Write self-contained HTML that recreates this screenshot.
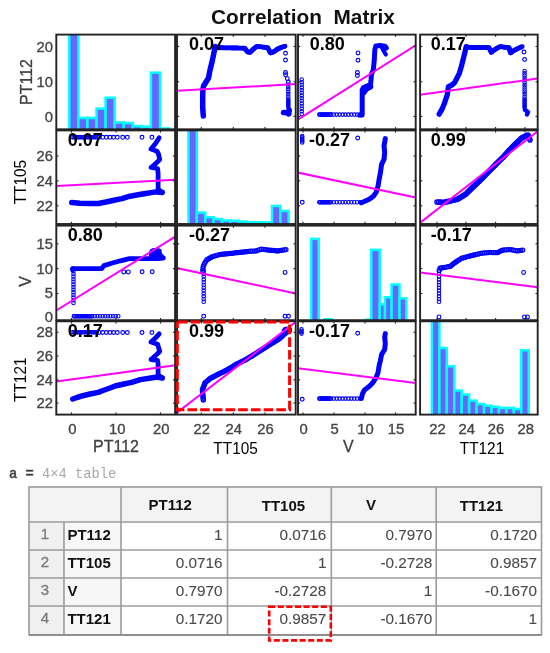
<!DOCTYPE html>
<html><head><meta charset="utf-8"><style>
html,body{margin:0;padding:0;background:#fff;width:550px;height:653px;overflow:hidden;position:relative}
.cmd{position:absolute;left:9px;top:463px;font-family:"Liberation Mono",monospace;font-size:13.75px;white-space:pre}
.cmd .a{color:#333} .cmd .g{color:#a6a6a6}
</style></head><body>
<svg width="550" height="653" viewBox="0 0 550 653" style="position:absolute;left:0;top:0">
<defs><clipPath id="c00"><rect x="56.3" y="34.6" width="118.8" height="94.70000000000002"/></clipPath><clipPath id="c01"><rect x="177.0" y="34.6" width="118.69999999999999" height="94.70000000000002"/></clipPath><clipPath id="c02"><rect x="298.0" y="34.6" width="117.69999999999999" height="94.70000000000002"/></clipPath><clipPath id="c03"><rect x="420.1" y="34.6" width="117.60000000000002" height="94.70000000000002"/></clipPath><clipPath id="c10"><rect x="56.3" y="130.4" width="118.8" height="93.6"/></clipPath><clipPath id="c11"><rect x="177.0" y="130.4" width="118.69999999999999" height="93.6"/></clipPath><clipPath id="c12"><rect x="298.0" y="130.4" width="117.69999999999999" height="93.6"/></clipPath><clipPath id="c13"><rect x="420.1" y="130.4" width="117.60000000000002" height="93.6"/></clipPath><clipPath id="c20"><rect x="56.3" y="225.6" width="118.8" height="94.6"/></clipPath><clipPath id="c21"><rect x="177.0" y="225.6" width="118.69999999999999" height="94.6"/></clipPath><clipPath id="c22"><rect x="298.0" y="225.6" width="117.69999999999999" height="94.6"/></clipPath><clipPath id="c23"><rect x="420.1" y="225.6" width="117.60000000000002" height="94.6"/></clipPath><clipPath id="c30"><rect x="56.3" y="321.3" width="118.8" height="93.30000000000001"/></clipPath><clipPath id="c31"><rect x="177.0" y="321.3" width="118.69999999999999" height="93.30000000000001"/></clipPath><clipPath id="c32"><rect x="298.0" y="321.3" width="117.69999999999999" height="93.30000000000001"/></clipPath><clipPath id="c33"><rect x="420.1" y="321.3" width="117.60000000000002" height="93.30000000000001"/></clipPath></defs>
<style>.cv{font-family:"Liberation Sans",Arial,sans-serif;font-weight:bold;font-size:18px;fill:#000}.tk{font-family:"Liberation Sans",Arial,sans-serif;font-size:14.8px;fill:#454545;stroke:#454545;stroke-width:0.35px}.lb{font-family:"Liberation Sans",Arial,sans-serif;font-size:16px;stroke-width:0.3px}.ti{font-family:"Liberation Sans",Arial,sans-serif;font-weight:bold;font-size:20.8px;fill:#111}</style>
<text x="211" y="23.6" class="ti" xml:space="preserve" style="white-space:pre">Correlation  Matrix</text>
<rect x="56.3" y="34.6" width="118.8" height="94.70000000000002" fill="#fff"/>
<g clip-path="url(#c00)">
<rect x="69.30" y="21.25" width="9.07" height="111.05" fill="#6666ff" stroke="#00ffff" stroke-width="2.5"/><rect x="78.37" y="117.95" width="9.07" height="14.35" fill="#6666ff" stroke="#00ffff" stroke-width="2.5"/><rect x="87.44" y="117.95" width="9.07" height="14.35" fill="#6666ff" stroke="#00ffff" stroke-width="2.5"/><rect x="96.51" y="108.65" width="9.07" height="23.65" fill="#6666ff" stroke="#00ffff" stroke-width="2.5"/><rect x="105.58" y="97.75" width="9.07" height="34.55" fill="#6666ff" stroke="#00ffff" stroke-width="2.5"/><rect x="114.65" y="122.45" width="9.07" height="9.85" fill="#6666ff" stroke="#00ffff" stroke-width="2.5"/><rect x="123.72" y="123.05" width="9.07" height="9.25" fill="#6666ff" stroke="#00ffff" stroke-width="2.5"/><rect x="132.79" y="126.05" width="9.07" height="6.25" fill="#6666ff" stroke="#00ffff" stroke-width="2.5"/><rect x="141.86" y="126.65" width="9.07" height="5.65" fill="#6666ff" stroke="#00ffff" stroke-width="2.5"/><rect x="150.93" y="72.65" width="9.07" height="59.65" fill="#6666ff" stroke="#00ffff" stroke-width="2.5"/><rect x="160.00" y="128.45" width="9.07" height="3.85" fill="#6666ff" stroke="#00ffff" stroke-width="2.5"/>

</g>
<rect x="56.3" y="34.6" width="118.8" height="94.70000000000002" fill="none" stroke="#222222" stroke-width="1.9"/>
<rect x="177.0" y="34.6" width="118.69999999999999" height="94.70000000000002" fill="#fff"/>
<g clip-path="url(#c01)">
<polyline points="203.3,116.0 202.7,108.0 202.7,96.0 202.9,89.0 203.6,86.0 206.0,82.0 208.5,78.0 210.0,70.0 212.0,62.0 213.5,55.0 215.2,46.5" fill="none" stroke="#0000ff" stroke-width="5.5" stroke-linejoin="round" stroke-linecap="round"/><circle cx="215.2" cy="47.5" r="1.75" fill="none" stroke="#0000ff" stroke-width="1.4"/><circle cx="216.1" cy="47.6" r="1.75" fill="none" stroke="#0000ff" stroke-width="1.4"/><circle cx="217.1" cy="47.7" r="1.75" fill="none" stroke="#0000ff" stroke-width="1.4"/><circle cx="218.0" cy="47.8" r="1.75" fill="none" stroke="#0000ff" stroke-width="1.4"/><circle cx="218.9" cy="47.8" r="1.75" fill="none" stroke="#0000ff" stroke-width="1.4"/><circle cx="219.8" cy="47.8" r="1.75" fill="none" stroke="#0000ff" stroke-width="1.4"/><circle cx="220.7" cy="47.8" r="1.75" fill="none" stroke="#0000ff" stroke-width="1.4"/><circle cx="221.6" cy="47.8" r="1.75" fill="none" stroke="#0000ff" stroke-width="1.4"/><circle cx="222.5" cy="47.8" r="1.75" fill="none" stroke="#0000ff" stroke-width="1.4"/><circle cx="223.4" cy="47.9" r="1.75" fill="none" stroke="#0000ff" stroke-width="1.4"/><circle cx="224.3" cy="47.9" r="1.75" fill="none" stroke="#0000ff" stroke-width="1.4"/><circle cx="225.2" cy="47.9" r="1.75" fill="none" stroke="#0000ff" stroke-width="1.4"/><circle cx="226.1" cy="47.9" r="1.75" fill="none" stroke="#0000ff" stroke-width="1.4"/><circle cx="227.0" cy="47.9" r="1.75" fill="none" stroke="#0000ff" stroke-width="1.4"/><circle cx="227.9" cy="47.9" r="1.75" fill="none" stroke="#0000ff" stroke-width="1.4"/><circle cx="228.8" cy="47.9" r="1.75" fill="none" stroke="#0000ff" stroke-width="1.4"/><circle cx="229.7" cy="47.9" r="1.75" fill="none" stroke="#0000ff" stroke-width="1.4"/><circle cx="230.6" cy="47.9" r="1.75" fill="none" stroke="#0000ff" stroke-width="1.4"/><circle cx="231.5" cy="48.0" r="1.75" fill="none" stroke="#0000ff" stroke-width="1.4"/><circle cx="232.4" cy="48.0" r="1.75" fill="none" stroke="#0000ff" stroke-width="1.4"/><circle cx="233.3" cy="48.0" r="1.75" fill="none" stroke="#0000ff" stroke-width="1.4"/><circle cx="234.2" cy="48.0" r="1.75" fill="none" stroke="#0000ff" stroke-width="1.4"/><circle cx="235.1" cy="48.0" r="1.75" fill="none" stroke="#0000ff" stroke-width="1.4"/><circle cx="236.0" cy="48.0" r="1.75" fill="none" stroke="#0000ff" stroke-width="1.4"/><circle cx="237.0" cy="48.0" r="1.75" fill="none" stroke="#0000ff" stroke-width="1.4"/><circle cx="237.9" cy="48.0" r="1.75" fill="none" stroke="#0000ff" stroke-width="1.4"/><circle cx="238.9" cy="48.1" r="1.75" fill="none" stroke="#0000ff" stroke-width="1.4"/><circle cx="239.9" cy="48.1" r="1.75" fill="none" stroke="#0000ff" stroke-width="1.4"/><circle cx="240.8" cy="48.1" r="1.75" fill="none" stroke="#0000ff" stroke-width="1.4"/><circle cx="241.8" cy="48.1" r="1.75" fill="none" stroke="#0000ff" stroke-width="1.4"/><circle cx="242.8" cy="48.2" r="1.75" fill="none" stroke="#0000ff" stroke-width="1.4"/><circle cx="243.7" cy="48.2" r="1.75" fill="none" stroke="#0000ff" stroke-width="1.4"/><circle cx="244.7" cy="48.2" r="1.75" fill="none" stroke="#0000ff" stroke-width="1.4"/><circle cx="245.3" cy="49.0" r="1.75" fill="none" stroke="#0000ff" stroke-width="1.4"/><circle cx="245.8" cy="49.7" r="1.75" fill="none" stroke="#0000ff" stroke-width="1.4"/><circle cx="246.4" cy="50.5" r="1.75" fill="none" stroke="#0000ff" stroke-width="1.4"/><circle cx="246.9" cy="51.2" r="1.75" fill="none" stroke="#0000ff" stroke-width="1.4"/><circle cx="247.5" cy="52.0" r="1.75" fill="none" stroke="#0000ff" stroke-width="1.4"/><circle cx="248.8" cy="52.2" r="1.75" fill="none" stroke="#0000ff" stroke-width="1.4"/><circle cx="250.0" cy="52.5" r="1.75" fill="none" stroke="#0000ff" stroke-width="1.4"/><circle cx="250.8" cy="51.8" r="1.75" fill="none" stroke="#0000ff" stroke-width="1.4"/><circle cx="251.5" cy="51.0" r="1.75" fill="none" stroke="#0000ff" stroke-width="1.4"/><circle cx="252.2" cy="50.2" r="1.75" fill="none" stroke="#0000ff" stroke-width="1.4"/><circle cx="253.0" cy="49.5" r="1.75" fill="none" stroke="#0000ff" stroke-width="1.4"/><circle cx="253.7" cy="48.9" r="1.75" fill="none" stroke="#0000ff" stroke-width="1.4"/><circle cx="254.5" cy="48.3" r="1.75" fill="none" stroke="#0000ff" stroke-width="1.4"/><circle cx="255.2" cy="47.7" r="1.75" fill="none" stroke="#0000ff" stroke-width="1.4"/><circle cx="256.0" cy="47.1" r="1.75" fill="none" stroke="#0000ff" stroke-width="1.4"/><circle cx="256.7" cy="46.5" r="1.75" fill="none" stroke="#0000ff" stroke-width="1.4"/><circle cx="257.8" cy="46.6" r="1.75" fill="none" stroke="#0000ff" stroke-width="1.4"/><circle cx="258.8" cy="46.7" r="1.75" fill="none" stroke="#0000ff" stroke-width="1.4"/><circle cx="259.9" cy="46.8" r="1.75" fill="none" stroke="#0000ff" stroke-width="1.4"/><circle cx="260.9" cy="46.9" r="1.75" fill="none" stroke="#0000ff" stroke-width="1.4"/><circle cx="262.0" cy="47.0" r="1.75" fill="none" stroke="#0000ff" stroke-width="1.4"/><circle cx="262.9" cy="47.1" r="1.75" fill="none" stroke="#0000ff" stroke-width="1.4"/><circle cx="263.9" cy="47.2" r="1.75" fill="none" stroke="#0000ff" stroke-width="1.4"/><circle cx="264.8" cy="47.3" r="1.75" fill="none" stroke="#0000ff" stroke-width="1.4"/><circle cx="265.7" cy="47.4" r="1.75" fill="none" stroke="#0000ff" stroke-width="1.4"/><circle cx="266.7" cy="47.5" r="1.75" fill="none" stroke="#0000ff" stroke-width="1.4"/><circle cx="267.6" cy="47.6" r="1.75" fill="none" stroke="#0000ff" stroke-width="1.4"/><circle cx="268.1" cy="48.5" r="1.75" fill="none" stroke="#0000ff" stroke-width="1.4"/><circle cx="268.6" cy="49.4" r="1.75" fill="none" stroke="#0000ff" stroke-width="1.4"/><circle cx="269.1" cy="50.3" r="1.75" fill="none" stroke="#0000ff" stroke-width="1.4"/><circle cx="269.5" cy="51.2" r="1.75" fill="none" stroke="#0000ff" stroke-width="1.4"/><circle cx="270.0" cy="52.1" r="1.75" fill="none" stroke="#0000ff" stroke-width="1.4"/><circle cx="270.5" cy="53.0" r="1.75" fill="none" stroke="#0000ff" stroke-width="1.4"/><circle cx="271.5" cy="52.7" r="1.75" fill="none" stroke="#0000ff" stroke-width="1.4"/><circle cx="272.5" cy="52.3" r="1.75" fill="none" stroke="#0000ff" stroke-width="1.4"/><circle cx="273.5" cy="52.0" r="1.75" fill="none" stroke="#0000ff" stroke-width="1.4"/><circle cx="274.3" cy="51.5" r="1.75" fill="none" stroke="#0000ff" stroke-width="1.4"/><circle cx="275.1" cy="50.9" r="1.75" fill="none" stroke="#0000ff" stroke-width="1.4"/><circle cx="275.8" cy="50.4" r="1.75" fill="none" stroke="#0000ff" stroke-width="1.4"/><circle cx="276.6" cy="49.8" r="1.75" fill="none" stroke="#0000ff" stroke-width="1.4"/><circle cx="277.4" cy="49.3" r="1.75" fill="none" stroke="#0000ff" stroke-width="1.4"/><circle cx="278.3" cy="48.8" r="1.75" fill="none" stroke="#0000ff" stroke-width="1.4"/><circle cx="279.2" cy="48.4" r="1.75" fill="none" stroke="#0000ff" stroke-width="1.4"/><circle cx="280.1" cy="48.0" r="1.75" fill="none" stroke="#0000ff" stroke-width="1.4"/><circle cx="281.0" cy="47.5" r="1.75" fill="none" stroke="#0000ff" stroke-width="1.4"/><circle cx="282.0" cy="47.2" r="1.75" fill="none" stroke="#0000ff" stroke-width="1.4"/><circle cx="283.0" cy="46.9" r="1.75" fill="none" stroke="#0000ff" stroke-width="1.4"/><circle cx="284.0" cy="46.6" r="1.75" fill="none" stroke="#0000ff" stroke-width="1.4"/><circle cx="285.0" cy="46.3" r="1.75" fill="none" stroke="#0000ff" stroke-width="1.4"/><circle cx="285.5" cy="53.2" r="1.9" fill="none" stroke="#0000ff" stroke-width="1.15"/><circle cx="285.5" cy="60.0" r="1.9" fill="none" stroke="#0000ff" stroke-width="1.15"/><circle cx="285.5" cy="72.5" r="1.9" fill="none" stroke="#0000ff" stroke-width="1.15"/><circle cx="285.6" cy="74.8" r="1.9" fill="none" stroke="#0000ff" stroke-width="1.15"/><circle cx="287.3" cy="78.6" r="1.9" fill="none" stroke="#0000ff" stroke-width="1.15"/><circle cx="288.3" cy="82.0" r="1.9" fill="none" stroke="#0000ff" stroke-width="1.15"/><circle cx="288.3" cy="84.5" r="1.75" fill="none" stroke="#0000ff" stroke-width="1.05"/><circle cx="288.3" cy="86.9" r="1.75" fill="none" stroke="#0000ff" stroke-width="1.05"/><circle cx="288.3" cy="89.3" r="1.75" fill="none" stroke="#0000ff" stroke-width="1.05"/><circle cx="288.3" cy="91.7" r="1.75" fill="none" stroke="#0000ff" stroke-width="1.05"/><circle cx="288.3" cy="94.1" r="1.75" fill="none" stroke="#0000ff" stroke-width="1.05"/><circle cx="288.3" cy="96.4" r="1.75" fill="none" stroke="#0000ff" stroke-width="1.05"/><circle cx="288.3" cy="98.8" r="1.75" fill="none" stroke="#0000ff" stroke-width="1.05"/><circle cx="288.3" cy="101.2" r="1.75" fill="none" stroke="#0000ff" stroke-width="1.05"/><circle cx="288.3" cy="103.6" r="1.75" fill="none" stroke="#0000ff" stroke-width="1.05"/><circle cx="288.3" cy="106.0" r="1.75" fill="none" stroke="#0000ff" stroke-width="1.05"/><polyline points="288.3,100.0 288.3,108.0" fill="none" stroke="#0000ff" stroke-width="4" stroke-linejoin="round" stroke-linecap="round"/><polyline points="283.5,112.5 288.0,112.8 289.3,110.0 288.8,114.0" fill="none" stroke="#0000ff" stroke-width="5.5" stroke-linejoin="round" stroke-linecap="round"/>
<text x="189.0" y="50.0" class="cv">0.07</text>
<line x1="176.8" y1="90.8" x2="295.6" y2="84.0" stroke="#ff00ff" stroke-width="2.0"/>
</g>
<rect x="177.0" y="34.6" width="118.69999999999999" height="94.70000000000002" fill="none" stroke="#222222" stroke-width="1.9"/>
<line x1="201.3" y1="34.6" x2="201.3" y2="36.800000000000004" stroke="#222222" stroke-width="1.1"/>
<line x1="201.3" y1="129.3" x2="201.3" y2="127.10000000000001" stroke="#222222" stroke-width="1.1"/>
<line x1="233.3" y1="34.6" x2="233.3" y2="36.800000000000004" stroke="#222222" stroke-width="1.1"/>
<line x1="233.3" y1="129.3" x2="233.3" y2="127.10000000000001" stroke="#222222" stroke-width="1.1"/>
<line x1="265" y1="34.6" x2="265" y2="36.800000000000004" stroke="#222222" stroke-width="1.1"/>
<line x1="265" y1="129.3" x2="265" y2="127.10000000000001" stroke="#222222" stroke-width="1.1"/>
<line x1="177.0" y1="116.4" x2="179.2" y2="116.4" stroke="#222222" stroke-width="1.1"/>
<line x1="295.7" y1="116.4" x2="293.5" y2="116.4" stroke="#222222" stroke-width="1.1"/>
<line x1="177.0" y1="81.8" x2="179.2" y2="81.8" stroke="#222222" stroke-width="1.1"/>
<line x1="295.7" y1="81.8" x2="293.5" y2="81.8" stroke="#222222" stroke-width="1.1"/>
<line x1="177.0" y1="46.5" x2="179.2" y2="46.5" stroke="#222222" stroke-width="1.1"/>
<line x1="295.7" y1="46.5" x2="293.5" y2="46.5" stroke="#222222" stroke-width="1.1"/>
<rect x="298.0" y="34.6" width="117.69999999999999" height="94.70000000000002" fill="#fff"/>
<g clip-path="url(#c02)">
<circle cx="301.7" cy="79.5" r="1.75" fill="none" stroke="#0000ff" stroke-width="1.05"/><circle cx="301.7" cy="82.2" r="1.75" fill="none" stroke="#0000ff" stroke-width="1.05"/><circle cx="301.7" cy="84.8" r="1.75" fill="none" stroke="#0000ff" stroke-width="1.05"/><circle cx="301.7" cy="87.5" r="1.75" fill="none" stroke="#0000ff" stroke-width="1.05"/><circle cx="301.7" cy="90.1" r="1.75" fill="none" stroke="#0000ff" stroke-width="1.05"/><circle cx="301.7" cy="92.8" r="1.75" fill="none" stroke="#0000ff" stroke-width="1.05"/><circle cx="301.7" cy="95.4" r="1.75" fill="none" stroke="#0000ff" stroke-width="1.05"/><circle cx="301.7" cy="98.1" r="1.75" fill="none" stroke="#0000ff" stroke-width="1.05"/><circle cx="301.7" cy="100.7" r="1.75" fill="none" stroke="#0000ff" stroke-width="1.05"/><circle cx="301.7" cy="103.4" r="1.75" fill="none" stroke="#0000ff" stroke-width="1.05"/><circle cx="301.7" cy="106.0" r="1.75" fill="none" stroke="#0000ff" stroke-width="1.05"/><circle cx="301.7" cy="108.7" r="1.75" fill="none" stroke="#0000ff" stroke-width="1.05"/><circle cx="301.7" cy="111.3" r="1.75" fill="none" stroke="#0000ff" stroke-width="1.05"/><circle cx="301.7" cy="114.0" r="1.75" fill="none" stroke="#0000ff" stroke-width="1.05"/><circle cx="319.3" cy="114.6" r="1.75" fill="none" stroke="#0000ff" stroke-width="1.05"/><circle cx="322.2" cy="114.6" r="1.75" fill="none" stroke="#0000ff" stroke-width="1.05"/><circle cx="325.1" cy="114.6" r="1.75" fill="none" stroke="#0000ff" stroke-width="1.05"/><circle cx="328.0" cy="114.6" r="1.75" fill="none" stroke="#0000ff" stroke-width="1.05"/><circle cx="330.9" cy="114.6" r="1.75" fill="none" stroke="#0000ff" stroke-width="1.05"/><circle cx="333.8" cy="114.6" r="1.75" fill="none" stroke="#0000ff" stroke-width="1.05"/><circle cx="336.7" cy="114.6" r="1.75" fill="none" stroke="#0000ff" stroke-width="1.05"/><circle cx="339.6" cy="114.6" r="1.75" fill="none" stroke="#0000ff" stroke-width="1.05"/><circle cx="342.6" cy="114.6" r="1.75" fill="none" stroke="#0000ff" stroke-width="1.05"/><circle cx="345.5" cy="114.6" r="1.75" fill="none" stroke="#0000ff" stroke-width="1.05"/><circle cx="348.4" cy="114.6" r="1.75" fill="none" stroke="#0000ff" stroke-width="1.05"/><circle cx="351.3" cy="114.6" r="1.75" fill="none" stroke="#0000ff" stroke-width="1.05"/><circle cx="354.2" cy="114.6" r="1.75" fill="none" stroke="#0000ff" stroke-width="1.05"/><circle cx="357.1" cy="114.6" r="1.75" fill="none" stroke="#0000ff" stroke-width="1.05"/><circle cx="360.0" cy="114.6" r="1.75" fill="none" stroke="#0000ff" stroke-width="1.05"/><circle cx="320.0" cy="114.6" r="1.75" fill="none" stroke="#0000ff" stroke-width="1.05"/><circle cx="321.4" cy="114.6" r="1.75" fill="none" stroke="#0000ff" stroke-width="1.05"/><circle cx="322.8" cy="114.6" r="1.75" fill="none" stroke="#0000ff" stroke-width="1.05"/><circle cx="324.1" cy="114.6" r="1.75" fill="none" stroke="#0000ff" stroke-width="1.05"/><circle cx="325.5" cy="114.6" r="1.75" fill="none" stroke="#0000ff" stroke-width="1.05"/><circle cx="326.9" cy="114.6" r="1.75" fill="none" stroke="#0000ff" stroke-width="1.05"/><circle cx="328.2" cy="114.6" r="1.75" fill="none" stroke="#0000ff" stroke-width="1.05"/><circle cx="329.6" cy="114.6" r="1.75" fill="none" stroke="#0000ff" stroke-width="1.05"/><circle cx="331.0" cy="114.6" r="1.75" fill="none" stroke="#0000ff" stroke-width="1.05"/><polyline points="359.8,115.3 362.2,115.0 362.2,100.0 362.2,90.0 363.5,87.5 367.0,86.0 370.5,84.5 371.0,80.0 371.5,74.0 373.3,70.0 374.3,60.0 374.8,50.0 375.8,46.0 380.0,45.6 385.0,46.2 386.3,48.0" fill="none" stroke="#0000ff" stroke-width="5.0" stroke-linejoin="round" stroke-linecap="round"/><polyline points="363.5,92.0 366.0,88.5 370.0,86.5" fill="none" stroke="#0000ff" stroke-width="6.5" stroke-linejoin="round" stroke-linecap="round"/><polyline points="382.0,47.5 384.3,52.0 385.8,54.5" fill="none" stroke="#0000ff" stroke-width="4.2" stroke-linejoin="round" stroke-linecap="round"/><circle cx="358.0" cy="52.9" r="1.9" fill="none" stroke="#0000ff" stroke-width="1.15"/><circle cx="358.0" cy="60.2" r="1.9" fill="none" stroke="#0000ff" stroke-width="1.15"/><circle cx="357.4" cy="72.5" r="1.9" fill="none" stroke="#0000ff" stroke-width="1.15"/><circle cx="357.4" cy="75.5" r="1.9" fill="none" stroke="#0000ff" stroke-width="1.15"/>
<text x="309.7" y="49.8" class="cv">0.80</text>
<line x1="297.8" y1="119.6" x2="415.7" y2="45.3" stroke="#ff00ff" stroke-width="2.0"/>
</g>
<rect x="298.0" y="34.6" width="117.69999999999999" height="94.70000000000002" fill="none" stroke="#222222" stroke-width="1.9"/>
<line x1="303" y1="34.6" x2="303" y2="36.800000000000004" stroke="#222222" stroke-width="1.1"/>
<line x1="303" y1="129.3" x2="303" y2="127.10000000000001" stroke="#222222" stroke-width="1.1"/>
<line x1="334" y1="34.6" x2="334" y2="36.800000000000004" stroke="#222222" stroke-width="1.1"/>
<line x1="334" y1="129.3" x2="334" y2="127.10000000000001" stroke="#222222" stroke-width="1.1"/>
<line x1="365" y1="34.6" x2="365" y2="36.800000000000004" stroke="#222222" stroke-width="1.1"/>
<line x1="365" y1="129.3" x2="365" y2="127.10000000000001" stroke="#222222" stroke-width="1.1"/>
<line x1="395.5" y1="34.6" x2="395.5" y2="36.800000000000004" stroke="#222222" stroke-width="1.1"/>
<line x1="395.5" y1="129.3" x2="395.5" y2="127.10000000000001" stroke="#222222" stroke-width="1.1"/>
<line x1="298.0" y1="116.4" x2="300.2" y2="116.4" stroke="#222222" stroke-width="1.1"/>
<line x1="415.7" y1="116.4" x2="413.5" y2="116.4" stroke="#222222" stroke-width="1.1"/>
<line x1="298.0" y1="81.8" x2="300.2" y2="81.8" stroke="#222222" stroke-width="1.1"/>
<line x1="415.7" y1="81.8" x2="413.5" y2="81.8" stroke="#222222" stroke-width="1.1"/>
<line x1="298.0" y1="46.5" x2="300.2" y2="46.5" stroke="#222222" stroke-width="1.1"/>
<line x1="415.7" y1="46.5" x2="413.5" y2="46.5" stroke="#222222" stroke-width="1.1"/>
<rect x="420.1" y="34.6" width="117.60000000000002" height="94.70000000000002" fill="#fff"/>
<g clip-path="url(#c03)">
<polyline points="439.2,114.1 442.3,108.6 444.7,102.5 447.2,95.1 448.4,86.6 451.4,85.3 454.5,82.9 457.0,78.0 459.4,73.1 461.2,67.0 463.1,59.6 464.9,52.3 466.2,46.6" fill="none" stroke="#0000ff" stroke-width="5.3" stroke-linejoin="round" stroke-linecap="round"/><circle cx="466.2" cy="47.0" r="1.75" fill="none" stroke="#0000ff" stroke-width="1.4"/><circle cx="467.1" cy="47.1" r="1.75" fill="none" stroke="#0000ff" stroke-width="1.4"/><circle cx="468.1" cy="47.2" r="1.75" fill="none" stroke="#0000ff" stroke-width="1.4"/><circle cx="469.1" cy="47.3" r="1.75" fill="none" stroke="#0000ff" stroke-width="1.4"/><circle cx="470.0" cy="47.4" r="1.75" fill="none" stroke="#0000ff" stroke-width="1.4"/><circle cx="470.9" cy="47.4" r="1.75" fill="none" stroke="#0000ff" stroke-width="1.4"/><circle cx="471.8" cy="47.4" r="1.75" fill="none" stroke="#0000ff" stroke-width="1.4"/><circle cx="472.7" cy="47.5" r="1.75" fill="none" stroke="#0000ff" stroke-width="1.4"/><circle cx="473.6" cy="47.5" r="1.75" fill="none" stroke="#0000ff" stroke-width="1.4"/><circle cx="474.5" cy="47.5" r="1.75" fill="none" stroke="#0000ff" stroke-width="1.4"/><circle cx="475.5" cy="47.5" r="1.75" fill="none" stroke="#0000ff" stroke-width="1.4"/><circle cx="476.4" cy="47.5" r="1.75" fill="none" stroke="#0000ff" stroke-width="1.4"/><circle cx="477.3" cy="47.5" r="1.75" fill="none" stroke="#0000ff" stroke-width="1.4"/><circle cx="478.2" cy="47.6" r="1.75" fill="none" stroke="#0000ff" stroke-width="1.4"/><circle cx="479.1" cy="47.6" r="1.75" fill="none" stroke="#0000ff" stroke-width="1.4"/><circle cx="480.0" cy="47.6" r="1.75" fill="none" stroke="#0000ff" stroke-width="1.4"/><circle cx="480.9" cy="47.6" r="1.75" fill="none" stroke="#0000ff" stroke-width="1.4"/><circle cx="481.8" cy="47.6" r="1.75" fill="none" stroke="#0000ff" stroke-width="1.4"/><circle cx="482.7" cy="47.6" r="1.75" fill="none" stroke="#0000ff" stroke-width="1.4"/><circle cx="483.6" cy="47.6" r="1.75" fill="none" stroke="#0000ff" stroke-width="1.4"/><circle cx="484.5" cy="47.6" r="1.75" fill="none" stroke="#0000ff" stroke-width="1.4"/><circle cx="485.4" cy="47.6" r="1.75" fill="none" stroke="#0000ff" stroke-width="1.4"/><circle cx="486.3" cy="47.6" r="1.75" fill="none" stroke="#0000ff" stroke-width="1.4"/><circle cx="487.2" cy="47.6" r="1.75" fill="none" stroke="#0000ff" stroke-width="1.4"/><circle cx="488.1" cy="47.6" r="1.75" fill="none" stroke="#0000ff" stroke-width="1.4"/><circle cx="489.0" cy="47.6" r="1.75" fill="none" stroke="#0000ff" stroke-width="1.4"/><circle cx="489.4" cy="48.6" r="1.75" fill="none" stroke="#0000ff" stroke-width="1.4"/><circle cx="489.9" cy="49.6" r="1.75" fill="none" stroke="#0000ff" stroke-width="1.4"/><circle cx="490.3" cy="50.5" r="1.75" fill="none" stroke="#0000ff" stroke-width="1.4"/><circle cx="490.8" cy="51.5" r="1.75" fill="none" stroke="#0000ff" stroke-width="1.4"/><circle cx="491.2" cy="52.5" r="1.75" fill="none" stroke="#0000ff" stroke-width="1.4"/><circle cx="492.0" cy="51.9" r="1.75" fill="none" stroke="#0000ff" stroke-width="1.4"/><circle cx="492.7" cy="51.3" r="1.75" fill="none" stroke="#0000ff" stroke-width="1.4"/><circle cx="493.5" cy="50.7" r="1.75" fill="none" stroke="#0000ff" stroke-width="1.4"/><circle cx="494.2" cy="50.1" r="1.75" fill="none" stroke="#0000ff" stroke-width="1.4"/><circle cx="495.0" cy="49.5" r="1.75" fill="none" stroke="#0000ff" stroke-width="1.4"/><circle cx="495.8" cy="49.0" r="1.75" fill="none" stroke="#0000ff" stroke-width="1.4"/><circle cx="496.7" cy="48.5" r="1.75" fill="none" stroke="#0000ff" stroke-width="1.4"/><circle cx="497.5" cy="48.0" r="1.75" fill="none" stroke="#0000ff" stroke-width="1.4"/><circle cx="498.3" cy="47.6" r="1.75" fill="none" stroke="#0000ff" stroke-width="1.4"/><circle cx="499.2" cy="47.1" r="1.75" fill="none" stroke="#0000ff" stroke-width="1.4"/><circle cx="500.0" cy="46.6" r="1.75" fill="none" stroke="#0000ff" stroke-width="1.4"/><circle cx="501.0" cy="46.7" r="1.75" fill="none" stroke="#0000ff" stroke-width="1.4"/><circle cx="502.0" cy="46.9" r="1.75" fill="none" stroke="#0000ff" stroke-width="1.4"/><circle cx="503.0" cy="47.0" r="1.75" fill="none" stroke="#0000ff" stroke-width="1.4"/><circle cx="504.0" cy="47.2" r="1.75" fill="none" stroke="#0000ff" stroke-width="1.4"/><circle cx="505.0" cy="47.3" r="1.75" fill="none" stroke="#0000ff" stroke-width="1.4"/><circle cx="506.0" cy="47.4" r="1.75" fill="none" stroke="#0000ff" stroke-width="1.4"/><circle cx="507.0" cy="47.5" r="1.75" fill="none" stroke="#0000ff" stroke-width="1.4"/><circle cx="508.0" cy="47.5" r="1.75" fill="none" stroke="#0000ff" stroke-width="1.4"/><circle cx="509.0" cy="47.6" r="1.75" fill="none" stroke="#0000ff" stroke-width="1.4"/><circle cx="509.2" cy="48.5" r="1.75" fill="none" stroke="#0000ff" stroke-width="1.4"/><circle cx="509.5" cy="49.4" r="1.75" fill="none" stroke="#0000ff" stroke-width="1.4"/><circle cx="509.8" cy="50.3" r="1.75" fill="none" stroke="#0000ff" stroke-width="1.4"/><circle cx="510.0" cy="51.2" r="1.75" fill="none" stroke="#0000ff" stroke-width="1.4"/><circle cx="510.2" cy="52.1" r="1.75" fill="none" stroke="#0000ff" stroke-width="1.4"/><circle cx="510.5" cy="53.0" r="1.75" fill="none" stroke="#0000ff" stroke-width="1.4"/><circle cx="511.4" cy="52.4" r="1.75" fill="none" stroke="#0000ff" stroke-width="1.4"/><circle cx="512.2" cy="51.8" r="1.75" fill="none" stroke="#0000ff" stroke-width="1.4"/><circle cx="513.1" cy="51.1" r="1.75" fill="none" stroke="#0000ff" stroke-width="1.4"/><circle cx="514.0" cy="50.5" r="1.75" fill="none" stroke="#0000ff" stroke-width="1.4"/><circle cx="515.0" cy="50.0" r="1.75" fill="none" stroke="#0000ff" stroke-width="1.4"/><circle cx="516.0" cy="49.5" r="1.75" fill="none" stroke="#0000ff" stroke-width="1.4"/><circle cx="517.0" cy="49.0" r="1.75" fill="none" stroke="#0000ff" stroke-width="1.4"/><circle cx="518.0" cy="48.5" r="1.75" fill="none" stroke="#0000ff" stroke-width="1.4"/><circle cx="518.8" cy="48.1" r="1.75" fill="none" stroke="#0000ff" stroke-width="1.4"/><circle cx="519.7" cy="47.7" r="1.75" fill="none" stroke="#0000ff" stroke-width="1.4"/><circle cx="520.5" cy="47.4" r="1.75" fill="none" stroke="#0000ff" stroke-width="1.4"/><circle cx="521.4" cy="47.0" r="1.75" fill="none" stroke="#0000ff" stroke-width="1.4"/><circle cx="522.2" cy="46.6" r="1.75" fill="none" stroke="#0000ff" stroke-width="1.4"/><circle cx="524.0" cy="52.0" r="1.9" fill="none" stroke="#0000ff" stroke-width="1.15"/><circle cx="524.6" cy="59.5" r="1.9" fill="none" stroke="#0000ff" stroke-width="1.15"/><circle cx="524.6" cy="71.0" r="1.75" fill="none" stroke="#0000ff" stroke-width="1.05"/><circle cx="524.6" cy="73.3" r="1.75" fill="none" stroke="#0000ff" stroke-width="1.05"/><circle cx="524.6" cy="75.6" r="1.75" fill="none" stroke="#0000ff" stroke-width="1.05"/><circle cx="524.6" cy="77.9" r="1.75" fill="none" stroke="#0000ff" stroke-width="1.05"/><circle cx="524.6" cy="80.2" r="1.75" fill="none" stroke="#0000ff" stroke-width="1.05"/><circle cx="524.6" cy="82.6" r="1.75" fill="none" stroke="#0000ff" stroke-width="1.05"/><circle cx="524.6" cy="84.9" r="1.75" fill="none" stroke="#0000ff" stroke-width="1.05"/><circle cx="524.6" cy="87.2" r="1.75" fill="none" stroke="#0000ff" stroke-width="1.05"/><circle cx="524.6" cy="89.5" r="1.75" fill="none" stroke="#0000ff" stroke-width="1.05"/><circle cx="524.6" cy="91.8" r="1.75" fill="none" stroke="#0000ff" stroke-width="1.05"/><circle cx="524.6" cy="94.1" r="1.75" fill="none" stroke="#0000ff" stroke-width="1.05"/><circle cx="524.6" cy="96.4" r="1.75" fill="none" stroke="#0000ff" stroke-width="1.05"/><circle cx="524.6" cy="98.8" r="1.75" fill="none" stroke="#0000ff" stroke-width="1.05"/><circle cx="524.6" cy="101.1" r="1.75" fill="none" stroke="#0000ff" stroke-width="1.05"/><circle cx="524.6" cy="103.4" r="1.75" fill="none" stroke="#0000ff" stroke-width="1.05"/><circle cx="524.6" cy="105.7" r="1.75" fill="none" stroke="#0000ff" stroke-width="1.05"/><circle cx="524.6" cy="108.0" r="1.75" fill="none" stroke="#0000ff" stroke-width="1.05"/><polyline points="524.6,100.0 524.6,107.0" fill="none" stroke="#0000ff" stroke-width="3.8" stroke-linejoin="round" stroke-linecap="round"/><polyline points="525.0,110.0 528.0,112.0 527.0,114.5" fill="none" stroke="#0000ff" stroke-width="4.5" stroke-linejoin="round" stroke-linecap="round"/>
<text x="430.7" y="49.8" class="cv">0.17</text>
<line x1="420.2" y1="94.7" x2="537.4" y2="78.6" stroke="#ff00ff" stroke-width="2.0"/>
</g>
<rect x="420.1" y="34.6" width="117.60000000000002" height="94.70000000000002" fill="none" stroke="#222222" stroke-width="1.9"/>
<line x1="437" y1="34.6" x2="437" y2="36.800000000000004" stroke="#222222" stroke-width="1.1"/>
<line x1="437" y1="129.3" x2="437" y2="127.10000000000001" stroke="#222222" stroke-width="1.1"/>
<line x1="466" y1="34.6" x2="466" y2="36.800000000000004" stroke="#222222" stroke-width="1.1"/>
<line x1="466" y1="129.3" x2="466" y2="127.10000000000001" stroke="#222222" stroke-width="1.1"/>
<line x1="495.6" y1="34.6" x2="495.6" y2="36.800000000000004" stroke="#222222" stroke-width="1.1"/>
<line x1="495.6" y1="129.3" x2="495.6" y2="127.10000000000001" stroke="#222222" stroke-width="1.1"/>
<line x1="525" y1="34.6" x2="525" y2="36.800000000000004" stroke="#222222" stroke-width="1.1"/>
<line x1="525" y1="129.3" x2="525" y2="127.10000000000001" stroke="#222222" stroke-width="1.1"/>
<line x1="420.1" y1="116.4" x2="422.3" y2="116.4" stroke="#222222" stroke-width="1.1"/>
<line x1="537.7" y1="116.4" x2="535.5" y2="116.4" stroke="#222222" stroke-width="1.1"/>
<line x1="420.1" y1="81.8" x2="422.3" y2="81.8" stroke="#222222" stroke-width="1.1"/>
<line x1="537.7" y1="81.8" x2="535.5" y2="81.8" stroke="#222222" stroke-width="1.1"/>
<line x1="420.1" y1="46.5" x2="422.3" y2="46.5" stroke="#222222" stroke-width="1.1"/>
<line x1="537.7" y1="46.5" x2="535.5" y2="46.5" stroke="#222222" stroke-width="1.1"/>
<rect x="56.3" y="130.4" width="118.8" height="93.6" fill="#fff"/>
<g clip-path="url(#c10)">
<circle cx="72.5" cy="137.3" r="1.75" fill="none" stroke="#0000ff" stroke-width="1.05"/><circle cx="73.8" cy="137.3" r="1.75" fill="none" stroke="#0000ff" stroke-width="1.05"/><circle cx="75.0" cy="137.3" r="1.75" fill="none" stroke="#0000ff" stroke-width="1.05"/><circle cx="76.3" cy="137.3" r="1.75" fill="none" stroke="#0000ff" stroke-width="1.05"/><circle cx="77.5" cy="137.3" r="1.75" fill="none" stroke="#0000ff" stroke-width="1.05"/><circle cx="78.8" cy="137.3" r="1.75" fill="none" stroke="#0000ff" stroke-width="1.05"/><circle cx="80.0" cy="137.3" r="1.75" fill="none" stroke="#0000ff" stroke-width="1.05"/><circle cx="81.3" cy="137.3" r="1.75" fill="none" stroke="#0000ff" stroke-width="1.05"/><circle cx="82.6" cy="137.3" r="1.75" fill="none" stroke="#0000ff" stroke-width="1.05"/><circle cx="83.8" cy="137.3" r="1.75" fill="none" stroke="#0000ff" stroke-width="1.05"/><circle cx="85.1" cy="137.3" r="1.75" fill="none" stroke="#0000ff" stroke-width="1.05"/><circle cx="86.3" cy="137.3" r="1.75" fill="none" stroke="#0000ff" stroke-width="1.05"/><circle cx="87.6" cy="137.3" r="1.75" fill="none" stroke="#0000ff" stroke-width="1.05"/><circle cx="88.9" cy="137.3" r="1.75" fill="none" stroke="#0000ff" stroke-width="1.05"/><circle cx="90.1" cy="137.3" r="1.75" fill="none" stroke="#0000ff" stroke-width="1.05"/><circle cx="91.4" cy="137.3" r="1.75" fill="none" stroke="#0000ff" stroke-width="1.05"/><circle cx="92.6" cy="137.3" r="1.75" fill="none" stroke="#0000ff" stroke-width="1.05"/><circle cx="93.9" cy="137.3" r="1.75" fill="none" stroke="#0000ff" stroke-width="1.05"/><circle cx="95.1" cy="137.3" r="1.75" fill="none" stroke="#0000ff" stroke-width="1.05"/><circle cx="96.4" cy="137.3" r="1.75" fill="none" stroke="#0000ff" stroke-width="1.05"/><circle cx="99.0" cy="137.3" r="1.9" fill="none" stroke="#0000ff" stroke-width="1.15"/><circle cx="102.7" cy="137.3" r="1.9" fill="none" stroke="#0000ff" stroke-width="1.15"/><circle cx="106.4" cy="137.3" r="1.9" fill="none" stroke="#0000ff" stroke-width="1.15"/><circle cx="110.0" cy="137.3" r="1.9" fill="none" stroke="#0000ff" stroke-width="1.15"/><circle cx="113.6" cy="137.3" r="1.9" fill="none" stroke="#0000ff" stroke-width="1.15"/><circle cx="117.3" cy="137.3" r="1.9" fill="none" stroke="#0000ff" stroke-width="1.15"/><circle cx="122.7" cy="137.3" r="1.9" fill="none" stroke="#0000ff" stroke-width="1.15"/><circle cx="127.3" cy="137.3" r="1.9" fill="none" stroke="#0000ff" stroke-width="1.15"/><circle cx="142.0" cy="137.3" r="1.9" fill="none" stroke="#0000ff" stroke-width="1.15"/><circle cx="151.9" cy="137.3" r="1.9" fill="none" stroke="#0000ff" stroke-width="1.15"/><polyline points="71.7,202.4 80.0,203.2 90.0,203.6 98.3,203.5 106.0,202.0 113.9,200.2 122.0,198.6 130.0,196.2 138.0,194.8 145.6,193.5 151.0,192.6 156.0,191.9 162.3,192.4" fill="none" stroke="#0000ff" stroke-width="5.5" stroke-linejoin="round" stroke-linecap="round"/><polyline points="162.3,192.4 158.1,189.3 158.1,173.7 157.6,168.5 151.0,167.5 156.0,163.3 159.7,159.6 158.6,154.4 157.1,151.3 151.0,149.0 155.5,143.5 159.2,137.7" fill="none" stroke="#0000ff" stroke-width="4.8" stroke-linejoin="round" stroke-linecap="round"/>
<text x="67.8" y="145.8" class="cv">0.07</text>
<line x1="56.3" y1="186.1" x2="175.3" y2="179.8" stroke="#ff00ff" stroke-width="2.0"/>
</g>
<rect x="56.3" y="130.4" width="118.8" height="93.6" fill="none" stroke="#222222" stroke-width="1.9"/>
<line x1="71.5" y1="130.4" x2="71.5" y2="132.6" stroke="#222222" stroke-width="1.1"/>
<line x1="71.5" y1="224.0" x2="71.5" y2="221.8" stroke="#222222" stroke-width="1.1"/>
<line x1="116" y1="130.4" x2="116" y2="132.6" stroke="#222222" stroke-width="1.1"/>
<line x1="116" y1="224.0" x2="116" y2="221.8" stroke="#222222" stroke-width="1.1"/>
<line x1="160.5" y1="130.4" x2="160.5" y2="132.6" stroke="#222222" stroke-width="1.1"/>
<line x1="160.5" y1="224.0" x2="160.5" y2="221.8" stroke="#222222" stroke-width="1.1"/>
<line x1="56.3" y1="205.8" x2="58.5" y2="205.8" stroke="#222222" stroke-width="1.1"/>
<line x1="175.1" y1="205.8" x2="172.9" y2="205.8" stroke="#222222" stroke-width="1.1"/>
<line x1="56.3" y1="180.8" x2="58.5" y2="180.8" stroke="#222222" stroke-width="1.1"/>
<line x1="175.1" y1="180.8" x2="172.9" y2="180.8" stroke="#222222" stroke-width="1.1"/>
<line x1="56.3" y1="156" x2="58.5" y2="156" stroke="#222222" stroke-width="1.1"/>
<line x1="175.1" y1="156" x2="172.9" y2="156" stroke="#222222" stroke-width="1.1"/>
<rect x="177.0" y="130.4" width="118.69999999999999" height="93.6" fill="#fff"/>
<g clip-path="url(#c11)">
<rect x="188.50" y="121.25" width="8.35" height="105.75" fill="#6666ff" stroke="#00ffff" stroke-width="2.5"/><rect x="196.85" y="212.65" width="8.35" height="14.35" fill="#6666ff" stroke="#00ffff" stroke-width="2.5"/><rect x="205.20" y="217.25" width="8.35" height="9.75" fill="#6666ff" stroke="#00ffff" stroke-width="2.5"/><rect x="213.55" y="219.05" width="8.35" height="7.95" fill="#6666ff" stroke="#00ffff" stroke-width="2.5"/><rect x="221.90" y="220.55" width="8.35" height="6.45" fill="#6666ff" stroke="#00ffff" stroke-width="2.5"/><rect x="230.25" y="220.75" width="8.35" height="6.25" fill="#6666ff" stroke="#00ffff" stroke-width="2.5"/><rect x="238.60" y="221.55" width="8.35" height="5.45" fill="#6666ff" stroke="#00ffff" stroke-width="2.5"/><rect x="246.95" y="222.25" width="8.35" height="4.75" fill="#6666ff" stroke="#00ffff" stroke-width="2.5"/><rect x="255.30" y="222.25" width="8.35" height="4.75" fill="#6666ff" stroke="#00ffff" stroke-width="2.5"/><rect x="263.65" y="222.45" width="8.35" height="4.55" fill="#6666ff" stroke="#00ffff" stroke-width="2.5"/><rect x="272.00" y="205.95" width="8.35" height="21.05" fill="#6666ff" stroke="#00ffff" stroke-width="2.5"/><rect x="280.35" y="210.95" width="8.35" height="16.05" fill="#6666ff" stroke="#00ffff" stroke-width="2.5"/>

</g>
<rect x="177.0" y="130.4" width="118.69999999999999" height="93.6" fill="none" stroke="#222222" stroke-width="1.9"/>
<rect x="298.0" y="130.4" width="117.69999999999999" height="93.6" fill="#fff"/>
<g clip-path="url(#c12)">
<circle cx="302.2" cy="136.0" r="1.75" fill="none" stroke="#0000ff" stroke-width="1.05"/><circle cx="302.2" cy="137.3" r="1.75" fill="none" stroke="#0000ff" stroke-width="1.05"/><circle cx="302.2" cy="138.6" r="1.75" fill="none" stroke="#0000ff" stroke-width="1.05"/><circle cx="302.2" cy="139.9" r="1.75" fill="none" stroke="#0000ff" stroke-width="1.05"/><circle cx="302.2" cy="141.2" r="1.75" fill="none" stroke="#0000ff" stroke-width="1.05"/><circle cx="302.2" cy="142.5" r="1.75" fill="none" stroke="#0000ff" stroke-width="1.05"/><circle cx="357.7" cy="138.0" r="1.9" fill="none" stroke="#0000ff" stroke-width="1.15"/><circle cx="302.2" cy="202.2" r="1.9" fill="none" stroke="#0000ff" stroke-width="1.15"/><circle cx="319.3" cy="202.2" r="1.75" fill="none" stroke="#0000ff" stroke-width="1.05"/><circle cx="322.2" cy="202.2" r="1.75" fill="none" stroke="#0000ff" stroke-width="1.05"/><circle cx="325.1" cy="202.2" r="1.75" fill="none" stroke="#0000ff" stroke-width="1.05"/><circle cx="328.0" cy="202.2" r="1.75" fill="none" stroke="#0000ff" stroke-width="1.05"/><circle cx="330.9" cy="202.2" r="1.75" fill="none" stroke="#0000ff" stroke-width="1.05"/><circle cx="333.8" cy="202.2" r="1.75" fill="none" stroke="#0000ff" stroke-width="1.05"/><circle cx="336.7" cy="202.2" r="1.75" fill="none" stroke="#0000ff" stroke-width="1.05"/><circle cx="339.6" cy="202.2" r="1.75" fill="none" stroke="#0000ff" stroke-width="1.05"/><circle cx="342.6" cy="202.2" r="1.75" fill="none" stroke="#0000ff" stroke-width="1.05"/><circle cx="345.5" cy="202.2" r="1.75" fill="none" stroke="#0000ff" stroke-width="1.05"/><circle cx="348.4" cy="202.2" r="1.75" fill="none" stroke="#0000ff" stroke-width="1.05"/><circle cx="351.3" cy="202.2" r="1.75" fill="none" stroke="#0000ff" stroke-width="1.05"/><circle cx="354.2" cy="202.2" r="1.75" fill="none" stroke="#0000ff" stroke-width="1.05"/><circle cx="357.1" cy="202.2" r="1.75" fill="none" stroke="#0000ff" stroke-width="1.05"/><circle cx="360.0" cy="202.2" r="1.75" fill="none" stroke="#0000ff" stroke-width="1.05"/><circle cx="320.0" cy="202.2" r="1.75" fill="none" stroke="#0000ff" stroke-width="1.05"/><circle cx="321.4" cy="202.2" r="1.75" fill="none" stroke="#0000ff" stroke-width="1.05"/><circle cx="322.9" cy="202.2" r="1.75" fill="none" stroke="#0000ff" stroke-width="1.05"/><circle cx="324.3" cy="202.2" r="1.75" fill="none" stroke="#0000ff" stroke-width="1.05"/><circle cx="325.7" cy="202.2" r="1.75" fill="none" stroke="#0000ff" stroke-width="1.05"/><circle cx="327.1" cy="202.2" r="1.75" fill="none" stroke="#0000ff" stroke-width="1.05"/><circle cx="328.6" cy="202.2" r="1.75" fill="none" stroke="#0000ff" stroke-width="1.05"/><circle cx="330.0" cy="202.2" r="1.75" fill="none" stroke="#0000ff" stroke-width="1.05"/><polyline points="361.4,202.8 368.2,199.8 373.0,196.7 376.1,192.4 378.0,186.3 379.2,179.0 380.4,172.8 381.6,164.3 384.0,159.4 384.7,152.0 384.0,146.0 385.3,138.6" fill="none" stroke="#0000ff" stroke-width="5.0" stroke-linejoin="round" stroke-linecap="round"/>
<text x="309.0" y="145.8" class="cv">-0.27</text>
<line x1="297.8" y1="172.6" x2="415.7" y2="197.4" stroke="#ff00ff" stroke-width="2.0"/>
</g>
<rect x="298.0" y="130.4" width="117.69999999999999" height="93.6" fill="none" stroke="#222222" stroke-width="1.9"/>
<line x1="303" y1="130.4" x2="303" y2="132.6" stroke="#222222" stroke-width="1.1"/>
<line x1="303" y1="224.0" x2="303" y2="221.8" stroke="#222222" stroke-width="1.1"/>
<line x1="334" y1="130.4" x2="334" y2="132.6" stroke="#222222" stroke-width="1.1"/>
<line x1="334" y1="224.0" x2="334" y2="221.8" stroke="#222222" stroke-width="1.1"/>
<line x1="365" y1="130.4" x2="365" y2="132.6" stroke="#222222" stroke-width="1.1"/>
<line x1="365" y1="224.0" x2="365" y2="221.8" stroke="#222222" stroke-width="1.1"/>
<line x1="395.5" y1="130.4" x2="395.5" y2="132.6" stroke="#222222" stroke-width="1.1"/>
<line x1="395.5" y1="224.0" x2="395.5" y2="221.8" stroke="#222222" stroke-width="1.1"/>
<line x1="298.0" y1="205.8" x2="300.2" y2="205.8" stroke="#222222" stroke-width="1.1"/>
<line x1="415.7" y1="205.8" x2="413.5" y2="205.8" stroke="#222222" stroke-width="1.1"/>
<line x1="298.0" y1="180.8" x2="300.2" y2="180.8" stroke="#222222" stroke-width="1.1"/>
<line x1="415.7" y1="180.8" x2="413.5" y2="180.8" stroke="#222222" stroke-width="1.1"/>
<line x1="298.0" y1="156" x2="300.2" y2="156" stroke="#222222" stroke-width="1.1"/>
<line x1="415.7" y1="156" x2="413.5" y2="156" stroke="#222222" stroke-width="1.1"/>
<rect x="420.1" y="130.4" width="117.60000000000002" height="93.6" fill="#fff"/>
<g clip-path="url(#c13)">
<circle cx="437.0" cy="202.0" r="2.1" fill="none" stroke="#0000ff" stroke-width="1.45"/><circle cx="438.8" cy="202.1" r="2.1" fill="none" stroke="#0000ff" stroke-width="1.45"/><circle cx="440.5" cy="202.2" r="2.1" fill="none" stroke="#0000ff" stroke-width="1.45"/><circle cx="442.2" cy="202.3" r="2.1" fill="none" stroke="#0000ff" stroke-width="1.45"/><circle cx="444.0" cy="202.4" r="2.1" fill="none" stroke="#0000ff" stroke-width="1.45"/><circle cx="445.5" cy="202.1" r="2.1" fill="none" stroke="#0000ff" stroke-width="1.45"/><circle cx="447.0" cy="201.7" r="2.1" fill="none" stroke="#0000ff" stroke-width="1.45"/><circle cx="448.5" cy="201.3" r="2.1" fill="none" stroke="#0000ff" stroke-width="1.45"/><circle cx="450.0" cy="201.0" r="2.1" fill="none" stroke="#0000ff" stroke-width="1.45"/><circle cx="451.6" cy="200.6" r="2.1" fill="none" stroke="#0000ff" stroke-width="1.45"/><circle cx="453.2" cy="200.2" r="2.1" fill="none" stroke="#0000ff" stroke-width="1.45"/><circle cx="454.8" cy="199.8" r="2.1" fill="none" stroke="#0000ff" stroke-width="1.45"/><circle cx="456.4" cy="199.4" r="2.1" fill="none" stroke="#0000ff" stroke-width="1.45"/><circle cx="458.0" cy="199.0" r="2.1" fill="none" stroke="#0000ff" stroke-width="1.45"/><circle cx="459.3" cy="198.2" r="2.1" fill="none" stroke="#0000ff" stroke-width="1.45"/><circle cx="460.7" cy="197.3" r="2.1" fill="none" stroke="#0000ff" stroke-width="1.45"/><circle cx="462.0" cy="196.5" r="2.1" fill="none" stroke="#0000ff" stroke-width="1.45"/><circle cx="463.3" cy="195.7" r="2.1" fill="none" stroke="#0000ff" stroke-width="1.45"/><circle cx="464.7" cy="194.8" r="2.1" fill="none" stroke="#0000ff" stroke-width="1.45"/><circle cx="466.0" cy="194.0" r="2.1" fill="none" stroke="#0000ff" stroke-width="1.45"/><circle cx="467.2" cy="192.8" r="2.1" fill="none" stroke="#0000ff" stroke-width="1.45"/><circle cx="468.4" cy="191.6" r="2.1" fill="none" stroke="#0000ff" stroke-width="1.45"/><circle cx="469.6" cy="190.4" r="2.1" fill="none" stroke="#0000ff" stroke-width="1.45"/><circle cx="470.8" cy="189.2" r="2.1" fill="none" stroke="#0000ff" stroke-width="1.45"/><circle cx="472.0" cy="188.0" r="2.1" fill="none" stroke="#0000ff" stroke-width="1.45"/><circle cx="473.1" cy="186.9" r="2.1" fill="none" stroke="#0000ff" stroke-width="1.45"/><circle cx="474.3" cy="185.9" r="2.1" fill="none" stroke="#0000ff" stroke-width="1.45"/><circle cx="475.4" cy="184.8" r="2.1" fill="none" stroke="#0000ff" stroke-width="1.45"/><circle cx="476.6" cy="183.7" r="2.1" fill="none" stroke="#0000ff" stroke-width="1.45"/><circle cx="477.7" cy="182.6" r="2.1" fill="none" stroke="#0000ff" stroke-width="1.45"/><circle cx="478.9" cy="181.6" r="2.1" fill="none" stroke="#0000ff" stroke-width="1.45"/><circle cx="480.0" cy="180.5" r="2.1" fill="none" stroke="#0000ff" stroke-width="1.45"/><circle cx="481.1" cy="179.3" r="2.1" fill="none" stroke="#0000ff" stroke-width="1.45"/><circle cx="482.3" cy="178.2" r="2.1" fill="none" stroke="#0000ff" stroke-width="1.45"/><circle cx="483.4" cy="177.0" r="2.1" fill="none" stroke="#0000ff" stroke-width="1.45"/><circle cx="484.6" cy="175.8" r="2.1" fill="none" stroke="#0000ff" stroke-width="1.45"/><circle cx="485.7" cy="174.6" r="2.1" fill="none" stroke="#0000ff" stroke-width="1.45"/><circle cx="486.9" cy="173.5" r="2.1" fill="none" stroke="#0000ff" stroke-width="1.45"/><circle cx="488.0" cy="172.3" r="2.1" fill="none" stroke="#0000ff" stroke-width="1.45"/><circle cx="489.1" cy="171.1" r="2.1" fill="none" stroke="#0000ff" stroke-width="1.45"/><circle cx="490.3" cy="170.0" r="2.1" fill="none" stroke="#0000ff" stroke-width="1.45"/><circle cx="491.4" cy="168.8" r="2.1" fill="none" stroke="#0000ff" stroke-width="1.45"/><circle cx="492.6" cy="167.7" r="2.1" fill="none" stroke="#0000ff" stroke-width="1.45"/><circle cx="493.7" cy="166.5" r="2.1" fill="none" stroke="#0000ff" stroke-width="1.45"/><circle cx="494.9" cy="165.4" r="2.1" fill="none" stroke="#0000ff" stroke-width="1.45"/><circle cx="496.0" cy="164.2" r="2.1" fill="none" stroke="#0000ff" stroke-width="1.45"/><circle cx="497.1" cy="163.1" r="2.1" fill="none" stroke="#0000ff" stroke-width="1.45"/><circle cx="498.3" cy="161.9" r="2.1" fill="none" stroke="#0000ff" stroke-width="1.45"/><circle cx="499.4" cy="160.8" r="2.1" fill="none" stroke="#0000ff" stroke-width="1.45"/><circle cx="500.6" cy="159.7" r="2.1" fill="none" stroke="#0000ff" stroke-width="1.45"/><circle cx="501.7" cy="158.6" r="2.1" fill="none" stroke="#0000ff" stroke-width="1.45"/><circle cx="502.9" cy="157.4" r="2.1" fill="none" stroke="#0000ff" stroke-width="1.45"/><circle cx="504.0" cy="156.3" r="2.1" fill="none" stroke="#0000ff" stroke-width="1.45"/><circle cx="505.0" cy="155.2" r="2.1" fill="none" stroke="#0000ff" stroke-width="1.45"/><circle cx="506.0" cy="154.0" r="2.1" fill="none" stroke="#0000ff" stroke-width="1.45"/><circle cx="507.0" cy="152.9" r="2.1" fill="none" stroke="#0000ff" stroke-width="1.45"/><circle cx="508.0" cy="151.8" r="2.1" fill="none" stroke="#0000ff" stroke-width="1.45"/><circle cx="509.0" cy="150.6" r="2.1" fill="none" stroke="#0000ff" stroke-width="1.45"/><circle cx="510.0" cy="149.5" r="2.1" fill="none" stroke="#0000ff" stroke-width="1.45"/><circle cx="511.2" cy="148.3" r="2.1" fill="none" stroke="#0000ff" stroke-width="1.45"/><circle cx="512.4" cy="147.1" r="2.1" fill="none" stroke="#0000ff" stroke-width="1.45"/><circle cx="513.6" cy="145.9" r="2.1" fill="none" stroke="#0000ff" stroke-width="1.45"/><circle cx="514.8" cy="144.7" r="2.1" fill="none" stroke="#0000ff" stroke-width="1.45"/><circle cx="516.0" cy="143.5" r="2.1" fill="none" stroke="#0000ff" stroke-width="1.45"/><circle cx="517.2" cy="142.4" r="2.1" fill="none" stroke="#0000ff" stroke-width="1.45"/><circle cx="518.4" cy="141.2" r="2.1" fill="none" stroke="#0000ff" stroke-width="1.45"/><circle cx="519.6" cy="140.1" r="2.1" fill="none" stroke="#0000ff" stroke-width="1.45"/><circle cx="520.8" cy="138.9" r="2.1" fill="none" stroke="#0000ff" stroke-width="1.45"/><circle cx="522.0" cy="137.8" r="2.1" fill="none" stroke="#0000ff" stroke-width="1.45"/><circle cx="523.5" cy="137.1" r="2.1" fill="none" stroke="#0000ff" stroke-width="1.45"/><circle cx="525.0" cy="136.4" r="2.1" fill="none" stroke="#0000ff" stroke-width="1.45"/><circle cx="526.5" cy="135.7" r="2.1" fill="none" stroke="#0000ff" stroke-width="1.45"/><circle cx="528.0" cy="135.0" r="2.1" fill="none" stroke="#0000ff" stroke-width="1.45"/><circle cx="528.7" cy="136.7" r="2.1" fill="none" stroke="#0000ff" stroke-width="1.45"/><circle cx="529.3" cy="138.3" r="2.1" fill="none" stroke="#0000ff" stroke-width="1.45"/><circle cx="530.0" cy="140.0" r="2.1" fill="none" stroke="#0000ff" stroke-width="1.45"/>
<text x="430.7" y="145.8" class="cv">0.99</text>
<line x1="420.2" y1="222.6" x2="537.4" y2="131.5" stroke="#ff00ff" stroke-width="2.0"/>
</g>
<rect x="420.1" y="130.4" width="117.60000000000002" height="93.6" fill="none" stroke="#222222" stroke-width="1.9"/>
<line x1="437" y1="130.4" x2="437" y2="132.6" stroke="#222222" stroke-width="1.1"/>
<line x1="437" y1="224.0" x2="437" y2="221.8" stroke="#222222" stroke-width="1.1"/>
<line x1="466" y1="130.4" x2="466" y2="132.6" stroke="#222222" stroke-width="1.1"/>
<line x1="466" y1="224.0" x2="466" y2="221.8" stroke="#222222" stroke-width="1.1"/>
<line x1="495.6" y1="130.4" x2="495.6" y2="132.6" stroke="#222222" stroke-width="1.1"/>
<line x1="495.6" y1="224.0" x2="495.6" y2="221.8" stroke="#222222" stroke-width="1.1"/>
<line x1="525" y1="130.4" x2="525" y2="132.6" stroke="#222222" stroke-width="1.1"/>
<line x1="525" y1="224.0" x2="525" y2="221.8" stroke="#222222" stroke-width="1.1"/>
<line x1="420.1" y1="205.8" x2="422.3" y2="205.8" stroke="#222222" stroke-width="1.1"/>
<line x1="537.7" y1="205.8" x2="535.5" y2="205.8" stroke="#222222" stroke-width="1.1"/>
<line x1="420.1" y1="180.8" x2="422.3" y2="180.8" stroke="#222222" stroke-width="1.1"/>
<line x1="537.7" y1="180.8" x2="535.5" y2="180.8" stroke="#222222" stroke-width="1.1"/>
<line x1="420.1" y1="156" x2="422.3" y2="156" stroke="#222222" stroke-width="1.1"/>
<line x1="537.7" y1="156" x2="535.5" y2="156" stroke="#222222" stroke-width="1.1"/>
<rect x="56.3" y="225.6" width="118.8" height="94.6" fill="#fff"/>
<g clip-path="url(#c20)">
<circle cx="73.5" cy="268.6" r="1.75" fill="none" stroke="#0000ff" stroke-width="1.05"/><circle cx="73.5" cy="271.2" r="1.75" fill="none" stroke="#0000ff" stroke-width="1.05"/><circle cx="73.5" cy="273.9" r="1.75" fill="none" stroke="#0000ff" stroke-width="1.05"/><circle cx="73.5" cy="276.5" r="1.75" fill="none" stroke="#0000ff" stroke-width="1.05"/><circle cx="73.5" cy="279.2" r="1.75" fill="none" stroke="#0000ff" stroke-width="1.05"/><circle cx="73.5" cy="281.8" r="1.75" fill="none" stroke="#0000ff" stroke-width="1.05"/><circle cx="73.5" cy="284.4" r="1.75" fill="none" stroke="#0000ff" stroke-width="1.05"/><circle cx="73.5" cy="287.1" r="1.75" fill="none" stroke="#0000ff" stroke-width="1.05"/><circle cx="73.5" cy="289.7" r="1.75" fill="none" stroke="#0000ff" stroke-width="1.05"/><circle cx="73.5" cy="292.3" r="1.75" fill="none" stroke="#0000ff" stroke-width="1.05"/><circle cx="73.5" cy="295.0" r="1.75" fill="none" stroke="#0000ff" stroke-width="1.05"/><circle cx="73.5" cy="297.6" r="1.75" fill="none" stroke="#0000ff" stroke-width="1.05"/><circle cx="73.5" cy="300.3" r="1.75" fill="none" stroke="#0000ff" stroke-width="1.05"/><circle cx="73.5" cy="302.9" r="1.75" fill="none" stroke="#0000ff" stroke-width="1.05"/><circle cx="74.0" cy="316.2" r="1.75" fill="none" stroke="#0000ff" stroke-width="1.05"/><circle cx="76.6" cy="316.2" r="1.75" fill="none" stroke="#0000ff" stroke-width="1.05"/><circle cx="79.2" cy="316.2" r="1.75" fill="none" stroke="#0000ff" stroke-width="1.05"/><circle cx="81.8" cy="316.2" r="1.75" fill="none" stroke="#0000ff" stroke-width="1.05"/><circle cx="84.4" cy="316.2" r="1.75" fill="none" stroke="#0000ff" stroke-width="1.05"/><circle cx="87.0" cy="316.2" r="1.75" fill="none" stroke="#0000ff" stroke-width="1.05"/><circle cx="89.6" cy="316.2" r="1.75" fill="none" stroke="#0000ff" stroke-width="1.05"/><circle cx="92.2" cy="316.2" r="1.75" fill="none" stroke="#0000ff" stroke-width="1.05"/><circle cx="94.8" cy="316.2" r="1.75" fill="none" stroke="#0000ff" stroke-width="1.05"/><circle cx="97.5" cy="316.2" r="1.75" fill="none" stroke="#0000ff" stroke-width="1.05"/><circle cx="100.1" cy="316.2" r="1.75" fill="none" stroke="#0000ff" stroke-width="1.05"/><circle cx="102.7" cy="316.2" r="1.75" fill="none" stroke="#0000ff" stroke-width="1.05"/><circle cx="105.3" cy="316.2" r="1.75" fill="none" stroke="#0000ff" stroke-width="1.05"/><circle cx="107.9" cy="316.2" r="1.75" fill="none" stroke="#0000ff" stroke-width="1.05"/><circle cx="110.5" cy="316.2" r="1.75" fill="none" stroke="#0000ff" stroke-width="1.05"/><circle cx="113.1" cy="316.2" r="1.75" fill="none" stroke="#0000ff" stroke-width="1.05"/><circle cx="115.7" cy="316.2" r="1.75" fill="none" stroke="#0000ff" stroke-width="1.05"/><circle cx="118.3" cy="316.2" r="1.75" fill="none" stroke="#0000ff" stroke-width="1.05"/><circle cx="74.0" cy="316.2" r="1.75" fill="none" stroke="#0000ff" stroke-width="1.05"/><circle cx="75.5" cy="316.2" r="1.75" fill="none" stroke="#0000ff" stroke-width="1.05"/><circle cx="77.0" cy="316.2" r="1.75" fill="none" stroke="#0000ff" stroke-width="1.05"/><circle cx="78.5" cy="316.2" r="1.75" fill="none" stroke="#0000ff" stroke-width="1.05"/><circle cx="80.0" cy="316.2" r="1.75" fill="none" stroke="#0000ff" stroke-width="1.05"/><circle cx="81.5" cy="316.2" r="1.75" fill="none" stroke="#0000ff" stroke-width="1.05"/><circle cx="83.0" cy="316.2" r="1.75" fill="none" stroke="#0000ff" stroke-width="1.05"/><circle cx="84.5" cy="316.2" r="1.75" fill="none" stroke="#0000ff" stroke-width="1.05"/><circle cx="86.0" cy="316.2" r="1.75" fill="none" stroke="#0000ff" stroke-width="1.05"/><circle cx="87.5" cy="316.2" r="1.75" fill="none" stroke="#0000ff" stroke-width="1.05"/><circle cx="89.0" cy="316.2" r="1.75" fill="none" stroke="#0000ff" stroke-width="1.05"/><circle cx="90.5" cy="316.2" r="1.75" fill="none" stroke="#0000ff" stroke-width="1.05"/><circle cx="92.0" cy="316.2" r="1.75" fill="none" stroke="#0000ff" stroke-width="1.05"/><polyline points="72.5,270.0 72.5,268.6 85.0,268.6 101.7,268.6 103.9,265.6 111.6,263.3 120.5,260.8 129.4,258.6 140.0,258.6 151.6,258.6 158.0,258.6 163.4,258.0" fill="none" stroke="#0000ff" stroke-width="4.8" stroke-linejoin="round" stroke-linecap="round"/><path d="M148.4,253.5 L150,249.5 L153,248 L159,248.2 L161.6,249.6 L161.8,253 L164,255.5 L163.8,259 L150,260 Z" fill="#0000ff"/><circle cx="123.8" cy="271.9" r="1.9" fill="none" stroke="#0000ff" stroke-width="1.15"/><circle cx="128.3" cy="271.9" r="1.9" fill="none" stroke="#0000ff" stroke-width="1.15"/><circle cx="142.1" cy="271.8" r="1.9" fill="none" stroke="#0000ff" stroke-width="1.15"/><circle cx="152.2" cy="271.8" r="1.9" fill="none" stroke="#0000ff" stroke-width="1.15"/>
<text x="67.8" y="240.8" class="cv">0.80</text>
<line x1="56.3" y1="310.5" x2="175.3" y2="236.6" stroke="#ff00ff" stroke-width="2.0"/>
</g>
<rect x="56.3" y="225.6" width="118.8" height="94.6" fill="none" stroke="#222222" stroke-width="1.9"/>
<line x1="71.5" y1="225.6" x2="71.5" y2="227.79999999999998" stroke="#222222" stroke-width="1.1"/>
<line x1="71.5" y1="320.2" x2="71.5" y2="318.0" stroke="#222222" stroke-width="1.1"/>
<line x1="116" y1="225.6" x2="116" y2="227.79999999999998" stroke="#222222" stroke-width="1.1"/>
<line x1="116" y1="320.2" x2="116" y2="318.0" stroke="#222222" stroke-width="1.1"/>
<line x1="160.5" y1="225.6" x2="160.5" y2="227.79999999999998" stroke="#222222" stroke-width="1.1"/>
<line x1="160.5" y1="320.2" x2="160.5" y2="318.0" stroke="#222222" stroke-width="1.1"/>
<line x1="56.3" y1="293.5" x2="58.5" y2="293.5" stroke="#222222" stroke-width="1.1"/>
<line x1="175.1" y1="293.5" x2="172.9" y2="293.5" stroke="#222222" stroke-width="1.1"/>
<line x1="56.3" y1="268.6" x2="58.5" y2="268.6" stroke="#222222" stroke-width="1.1"/>
<line x1="175.1" y1="268.6" x2="172.9" y2="268.6" stroke="#222222" stroke-width="1.1"/>
<line x1="56.3" y1="243.8" x2="58.5" y2="243.8" stroke="#222222" stroke-width="1.1"/>
<line x1="175.1" y1="243.8" x2="172.9" y2="243.8" stroke="#222222" stroke-width="1.1"/>
<rect x="177.0" y="225.6" width="118.69999999999999" height="94.6" fill="#fff"/>
<g clip-path="url(#c21)">
<circle cx="203.7" cy="271.0" r="1.75" fill="none" stroke="#0000ff" stroke-width="1.05"/><circle cx="203.7" cy="273.8" r="1.75" fill="none" stroke="#0000ff" stroke-width="1.05"/><circle cx="203.7" cy="276.6" r="1.75" fill="none" stroke="#0000ff" stroke-width="1.05"/><circle cx="203.7" cy="279.4" r="1.75" fill="none" stroke="#0000ff" stroke-width="1.05"/><circle cx="203.7" cy="282.2" r="1.75" fill="none" stroke="#0000ff" stroke-width="1.05"/><circle cx="203.7" cy="285.0" r="1.75" fill="none" stroke="#0000ff" stroke-width="1.05"/><circle cx="203.7" cy="287.8" r="1.75" fill="none" stroke="#0000ff" stroke-width="1.05"/><circle cx="203.7" cy="290.6" r="1.75" fill="none" stroke="#0000ff" stroke-width="1.05"/><circle cx="203.7" cy="293.4" r="1.75" fill="none" stroke="#0000ff" stroke-width="1.05"/><circle cx="203.7" cy="296.2" r="1.75" fill="none" stroke="#0000ff" stroke-width="1.05"/><circle cx="203.7" cy="299.0" r="1.75" fill="none" stroke="#0000ff" stroke-width="1.05"/><circle cx="203.7" cy="301.8" r="1.75" fill="none" stroke="#0000ff" stroke-width="1.05"/><circle cx="203.7" cy="316.2" r="1.9" fill="none" stroke="#0000ff" stroke-width="1.15"/><circle cx="285.1" cy="272.4" r="1.9" fill="none" stroke="#0000ff" stroke-width="1.15"/><circle cx="285.0" cy="316.2" r="1.9" fill="none" stroke="#0000ff" stroke-width="1.15"/><circle cx="288.5" cy="316.2" r="1.9" fill="none" stroke="#0000ff" stroke-width="1.15"/><circle cx="202.8" cy="270.5" r="2.0" fill="none" stroke="#0000ff" stroke-width="1.25"/><circle cx="203.0" cy="268.5" r="2.0" fill="none" stroke="#0000ff" stroke-width="1.25"/><circle cx="203.2" cy="266.5" r="2.0" fill="none" stroke="#0000ff" stroke-width="1.25"/><circle cx="203.9" cy="264.8" r="2.0" fill="none" stroke="#0000ff" stroke-width="1.25"/><circle cx="204.6" cy="263.0" r="2.0" fill="none" stroke="#0000ff" stroke-width="1.25"/><circle cx="205.8" cy="261.3" r="2.0" fill="none" stroke="#0000ff" stroke-width="1.25"/><circle cx="206.9" cy="259.6" r="2.0" fill="none" stroke="#0000ff" stroke-width="1.25"/><circle cx="208.3" cy="258.9" r="2.0" fill="none" stroke="#0000ff" stroke-width="1.25"/><circle cx="209.7" cy="258.1" r="2.0" fill="none" stroke="#0000ff" stroke-width="1.25"/><circle cx="211.0" cy="257.4" r="2.0" fill="none" stroke="#0000ff" stroke-width="1.25"/><circle cx="212.4" cy="256.6" r="2.0" fill="none" stroke="#0000ff" stroke-width="1.25"/><circle cx="214.2" cy="256.1" r="2.0" fill="none" stroke="#0000ff" stroke-width="1.25"/><circle cx="216.0" cy="255.6" r="2.0" fill="none" stroke="#0000ff" stroke-width="1.25"/><circle cx="217.8" cy="255.0" r="2.0" fill="none" stroke="#0000ff" stroke-width="1.25"/><circle cx="219.6" cy="254.5" r="2.0" fill="none" stroke="#0000ff" stroke-width="1.25"/><circle cx="221.1" cy="254.3" r="2.0" fill="none" stroke="#0000ff" stroke-width="1.25"/><circle cx="222.6" cy="254.2" r="2.0" fill="none" stroke="#0000ff" stroke-width="1.25"/><circle cx="224.1" cy="254.1" r="2.0" fill="none" stroke="#0000ff" stroke-width="1.25"/><circle cx="225.7" cy="253.9" r="2.0" fill="none" stroke="#0000ff" stroke-width="1.25"/><circle cx="227.2" cy="253.8" r="2.0" fill="none" stroke="#0000ff" stroke-width="1.25"/><circle cx="228.7" cy="253.6" r="2.0" fill="none" stroke="#0000ff" stroke-width="1.25"/><circle cx="230.3" cy="253.4" r="2.0" fill="none" stroke="#0000ff" stroke-width="1.25"/><circle cx="231.8" cy="253.3" r="2.0" fill="none" stroke="#0000ff" stroke-width="1.25"/><circle cx="233.4" cy="253.1" r="2.0" fill="none" stroke="#0000ff" stroke-width="1.25"/><circle cx="234.9" cy="252.9" r="2.0" fill="none" stroke="#0000ff" stroke-width="1.25"/><circle cx="236.5" cy="252.7" r="2.0" fill="none" stroke="#0000ff" stroke-width="1.25"/><circle cx="238.0" cy="252.6" r="2.0" fill="none" stroke="#0000ff" stroke-width="1.25"/><circle cx="239.6" cy="252.4" r="2.0" fill="none" stroke="#0000ff" stroke-width="1.25"/><circle cx="241.1" cy="252.2" r="2.0" fill="none" stroke="#0000ff" stroke-width="1.25"/><circle cx="242.6" cy="252.0" r="2.0" fill="none" stroke="#0000ff" stroke-width="1.25"/><circle cx="244.1" cy="251.9" r="2.0" fill="none" stroke="#0000ff" stroke-width="1.25"/><circle cx="245.7" cy="251.7" r="2.0" fill="none" stroke="#0000ff" stroke-width="1.25"/><circle cx="247.2" cy="251.5" r="2.0" fill="none" stroke="#0000ff" stroke-width="1.25"/><circle cx="248.7" cy="251.3" r="2.0" fill="none" stroke="#0000ff" stroke-width="1.25"/><circle cx="250.5" cy="251.2" r="2.0" fill="none" stroke="#0000ff" stroke-width="1.25"/><circle cx="252.3" cy="251.1" r="2.0" fill="none" stroke="#0000ff" stroke-width="1.25"/><circle cx="254.2" cy="251.0" r="2.0" fill="none" stroke="#0000ff" stroke-width="1.25"/><circle cx="256.0" cy="250.9" r="2.0" fill="none" stroke="#0000ff" stroke-width="1.25"/><circle cx="257.8" cy="250.3" r="2.0" fill="none" stroke="#0000ff" stroke-width="1.25"/><circle cx="259.7" cy="249.7" r="2.0" fill="none" stroke="#0000ff" stroke-width="1.25"/><circle cx="261.5" cy="249.1" r="2.0" fill="none" stroke="#0000ff" stroke-width="1.25"/><circle cx="263.3" cy="249.3" r="2.0" fill="none" stroke="#0000ff" stroke-width="1.25"/><circle cx="265.1" cy="249.6" r="2.0" fill="none" stroke="#0000ff" stroke-width="1.25"/><circle cx="266.9" cy="249.8" r="2.0" fill="none" stroke="#0000ff" stroke-width="1.25"/><circle cx="268.7" cy="250.0" r="2.0" fill="none" stroke="#0000ff" stroke-width="1.25"/><circle cx="270.2" cy="250.2" r="2.0" fill="none" stroke="#0000ff" stroke-width="1.25"/><circle cx="271.7" cy="250.3" r="2.0" fill="none" stroke="#0000ff" stroke-width="1.25"/><circle cx="273.2" cy="250.4" r="2.0" fill="none" stroke="#0000ff" stroke-width="1.25"/><circle cx="274.8" cy="250.6" r="2.0" fill="none" stroke="#0000ff" stroke-width="1.25"/><circle cx="276.3" cy="250.8" r="2.0" fill="none" stroke="#0000ff" stroke-width="1.25"/><circle cx="277.8" cy="250.9" r="2.0" fill="none" stroke="#0000ff" stroke-width="1.25"/><circle cx="279.4" cy="250.6" r="2.0" fill="none" stroke="#0000ff" stroke-width="1.25"/><circle cx="281.1" cy="250.3" r="2.0" fill="none" stroke="#0000ff" stroke-width="1.25"/><circle cx="282.7" cy="250.1" r="2.0" fill="none" stroke="#0000ff" stroke-width="1.25"/><circle cx="284.4" cy="249.8" r="2.0" fill="none" stroke="#0000ff" stroke-width="1.25"/><circle cx="286.0" cy="249.5" r="2.0" fill="none" stroke="#0000ff" stroke-width="1.25"/>
<text x="189.0" y="240.8" class="cv">-0.27</text>
<line x1="176.8" y1="268.1" x2="295.6" y2="293.4" stroke="#ff00ff" stroke-width="2.0"/>
</g>
<rect x="177.0" y="225.6" width="118.69999999999999" height="94.6" fill="none" stroke="#222222" stroke-width="1.9"/>
<line x1="201.3" y1="225.6" x2="201.3" y2="227.79999999999998" stroke="#222222" stroke-width="1.1"/>
<line x1="201.3" y1="320.2" x2="201.3" y2="318.0" stroke="#222222" stroke-width="1.1"/>
<line x1="233.3" y1="225.6" x2="233.3" y2="227.79999999999998" stroke="#222222" stroke-width="1.1"/>
<line x1="233.3" y1="320.2" x2="233.3" y2="318.0" stroke="#222222" stroke-width="1.1"/>
<line x1="265" y1="225.6" x2="265" y2="227.79999999999998" stroke="#222222" stroke-width="1.1"/>
<line x1="265" y1="320.2" x2="265" y2="318.0" stroke="#222222" stroke-width="1.1"/>
<line x1="177.0" y1="293.5" x2="179.2" y2="293.5" stroke="#222222" stroke-width="1.1"/>
<line x1="295.7" y1="293.5" x2="293.5" y2="293.5" stroke="#222222" stroke-width="1.1"/>
<line x1="177.0" y1="268.6" x2="179.2" y2="268.6" stroke="#222222" stroke-width="1.1"/>
<line x1="295.7" y1="268.6" x2="293.5" y2="268.6" stroke="#222222" stroke-width="1.1"/>
<line x1="177.0" y1="243.8" x2="179.2" y2="243.8" stroke="#222222" stroke-width="1.1"/>
<line x1="295.7" y1="243.8" x2="293.5" y2="243.8" stroke="#222222" stroke-width="1.1"/>
<rect x="298.0" y="225.6" width="117.69999999999999" height="94.6" fill="#fff"/>
<g clip-path="url(#c22)">
<rect x="311.20" y="238.85" width="7.50" height="84.35" fill="#6666ff" stroke="#00ffff" stroke-width="2.5"/><rect x="324.60" y="319.25" width="7.40" height="3.95" fill="#6666ff" stroke="#00ffff" stroke-width="2.5"/><rect x="366.00" y="319.75" width="5.30" height="3.45" fill="#6666ff" stroke="#00ffff" stroke-width="2.5"/><rect x="371.30" y="249.85" width="8.40" height="73.35" fill="#6666ff" stroke="#00ffff" stroke-width="2.5"/><rect x="379.70" y="304.35" width="5.30" height="18.85" fill="#6666ff" stroke="#00ffff" stroke-width="2.5"/><rect x="385.00" y="297.25" width="6.60" height="25.95" fill="#6666ff" stroke="#00ffff" stroke-width="2.5"/><rect x="391.60" y="284.45" width="7.90" height="38.75" fill="#6666ff" stroke="#00ffff" stroke-width="2.5"/><rect x="399.50" y="298.25" width="6.80" height="24.95" fill="#6666ff" stroke="#00ffff" stroke-width="2.5"/>

</g>
<rect x="298.0" y="225.6" width="117.69999999999999" height="94.6" fill="none" stroke="#222222" stroke-width="1.9"/>
<rect x="420.1" y="225.6" width="117.60000000000002" height="94.6" fill="#fff"/>
<g clip-path="url(#c23)">
<circle cx="439.0" cy="271.0" r="1.75" fill="none" stroke="#0000ff" stroke-width="1.05"/><circle cx="439.0" cy="273.8" r="1.75" fill="none" stroke="#0000ff" stroke-width="1.05"/><circle cx="439.0" cy="276.6" r="1.75" fill="none" stroke="#0000ff" stroke-width="1.05"/><circle cx="439.0" cy="279.4" r="1.75" fill="none" stroke="#0000ff" stroke-width="1.05"/><circle cx="439.0" cy="282.2" r="1.75" fill="none" stroke="#0000ff" stroke-width="1.05"/><circle cx="439.0" cy="285.0" r="1.75" fill="none" stroke="#0000ff" stroke-width="1.05"/><circle cx="439.0" cy="287.8" r="1.75" fill="none" stroke="#0000ff" stroke-width="1.05"/><circle cx="439.0" cy="290.6" r="1.75" fill="none" stroke="#0000ff" stroke-width="1.05"/><circle cx="439.0" cy="293.4" r="1.75" fill="none" stroke="#0000ff" stroke-width="1.05"/><circle cx="439.0" cy="296.2" r="1.75" fill="none" stroke="#0000ff" stroke-width="1.05"/><circle cx="439.0" cy="299.0" r="1.75" fill="none" stroke="#0000ff" stroke-width="1.05"/><circle cx="439.0" cy="301.8" r="1.75" fill="none" stroke="#0000ff" stroke-width="1.05"/><circle cx="439.0" cy="316.9" r="1.9" fill="none" stroke="#0000ff" stroke-width="1.15"/><circle cx="523.6" cy="272.4" r="1.9" fill="none" stroke="#0000ff" stroke-width="1.15"/><circle cx="524.4" cy="316.9" r="1.9" fill="none" stroke="#0000ff" stroke-width="1.15"/><circle cx="527.5" cy="316.9" r="1.9" fill="none" stroke="#0000ff" stroke-width="1.15"/><circle cx="439.2" cy="270.5" r="2.0" fill="none" stroke="#0000ff" stroke-width="1.25"/><circle cx="440.0" cy="268.2" r="2.0" fill="none" stroke="#0000ff" stroke-width="1.25"/><circle cx="441.5" cy="267.9" r="2.0" fill="none" stroke="#0000ff" stroke-width="1.25"/><circle cx="443.0" cy="267.6" r="2.0" fill="none" stroke="#0000ff" stroke-width="1.25"/><circle cx="444.5" cy="267.3" r="2.0" fill="none" stroke="#0000ff" stroke-width="1.25"/><circle cx="446.3" cy="267.0" r="2.0" fill="none" stroke="#0000ff" stroke-width="1.25"/><circle cx="448.2" cy="266.7" r="2.0" fill="none" stroke="#0000ff" stroke-width="1.25"/><circle cx="450.0" cy="266.4" r="2.0" fill="none" stroke="#0000ff" stroke-width="1.25"/><circle cx="451.2" cy="265.5" r="2.0" fill="none" stroke="#0000ff" stroke-width="1.25"/><circle cx="452.4" cy="264.5" r="2.0" fill="none" stroke="#0000ff" stroke-width="1.25"/><circle cx="453.6" cy="263.6" r="2.0" fill="none" stroke="#0000ff" stroke-width="1.25"/><circle cx="454.8" cy="262.7" r="2.0" fill="none" stroke="#0000ff" stroke-width="1.25"/><circle cx="456.1" cy="261.8" r="2.0" fill="none" stroke="#0000ff" stroke-width="1.25"/><circle cx="457.3" cy="260.9" r="2.0" fill="none" stroke="#0000ff" stroke-width="1.25"/><circle cx="458.8" cy="260.0" r="2.0" fill="none" stroke="#0000ff" stroke-width="1.25"/><circle cx="460.3" cy="259.1" r="2.0" fill="none" stroke="#0000ff" stroke-width="1.25"/><circle cx="461.8" cy="258.2" r="2.0" fill="none" stroke="#0000ff" stroke-width="1.25"/><circle cx="463.4" cy="257.8" r="2.0" fill="none" stroke="#0000ff" stroke-width="1.25"/><circle cx="465.0" cy="257.3" r="2.0" fill="none" stroke="#0000ff" stroke-width="1.25"/><circle cx="466.6" cy="256.8" r="2.0" fill="none" stroke="#0000ff" stroke-width="1.25"/><circle cx="468.2" cy="256.4" r="2.0" fill="none" stroke="#0000ff" stroke-width="1.25"/><circle cx="469.7" cy="256.0" r="2.0" fill="none" stroke="#0000ff" stroke-width="1.25"/><circle cx="471.1" cy="255.6" r="2.0" fill="none" stroke="#0000ff" stroke-width="1.25"/><circle cx="472.6" cy="255.3" r="2.0" fill="none" stroke="#0000ff" stroke-width="1.25"/><circle cx="474.0" cy="254.9" r="2.0" fill="none" stroke="#0000ff" stroke-width="1.25"/><circle cx="475.5" cy="254.5" r="2.0" fill="none" stroke="#0000ff" stroke-width="1.25"/><circle cx="477.3" cy="254.2" r="2.0" fill="none" stroke="#0000ff" stroke-width="1.25"/><circle cx="479.1" cy="253.8" r="2.0" fill="none" stroke="#0000ff" stroke-width="1.25"/><circle cx="480.9" cy="253.4" r="2.0" fill="none" stroke="#0000ff" stroke-width="1.25"/><circle cx="482.7" cy="253.1" r="2.0" fill="none" stroke="#0000ff" stroke-width="1.25"/><circle cx="484.5" cy="252.9" r="2.0" fill="none" stroke="#0000ff" stroke-width="1.25"/><circle cx="486.4" cy="252.8" r="2.0" fill="none" stroke="#0000ff" stroke-width="1.25"/><circle cx="488.2" cy="252.6" r="2.0" fill="none" stroke="#0000ff" stroke-width="1.25"/><circle cx="490.0" cy="252.4" r="2.0" fill="none" stroke="#0000ff" stroke-width="1.25"/><circle cx="491.8" cy="252.5" r="2.0" fill="none" stroke="#0000ff" stroke-width="1.25"/><circle cx="493.6" cy="252.6" r="2.0" fill="none" stroke="#0000ff" stroke-width="1.25"/><circle cx="495.5" cy="252.6" r="2.0" fill="none" stroke="#0000ff" stroke-width="1.25"/><circle cx="497.3" cy="252.7" r="2.0" fill="none" stroke="#0000ff" stroke-width="1.25"/><circle cx="498.6" cy="252.0" r="2.0" fill="none" stroke="#0000ff" stroke-width="1.25"/><circle cx="500.0" cy="251.3" r="2.0" fill="none" stroke="#0000ff" stroke-width="1.25"/><circle cx="501.4" cy="250.7" r="2.0" fill="none" stroke="#0000ff" stroke-width="1.25"/><circle cx="502.7" cy="250.0" r="2.0" fill="none" stroke="#0000ff" stroke-width="1.25"/><circle cx="504.5" cy="249.9" r="2.0" fill="none" stroke="#0000ff" stroke-width="1.25"/><circle cx="506.4" cy="249.8" r="2.0" fill="none" stroke="#0000ff" stroke-width="1.25"/><circle cx="508.2" cy="249.6" r="2.0" fill="none" stroke="#0000ff" stroke-width="1.25"/><circle cx="510.0" cy="249.5" r="2.0" fill="none" stroke="#0000ff" stroke-width="1.25"/><circle cx="511.8" cy="249.8" r="2.0" fill="none" stroke="#0000ff" stroke-width="1.25"/><circle cx="513.6" cy="250.2" r="2.0" fill="none" stroke="#0000ff" stroke-width="1.25"/><circle cx="515.5" cy="250.6" r="2.0" fill="none" stroke="#0000ff" stroke-width="1.25"/><circle cx="517.3" cy="250.9" r="2.0" fill="none" stroke="#0000ff" stroke-width="1.25"/><circle cx="519.1" cy="250.6" r="2.0" fill="none" stroke="#0000ff" stroke-width="1.25"/><circle cx="520.9" cy="250.3" r="2.0" fill="none" stroke="#0000ff" stroke-width="1.25"/><circle cx="522.7" cy="250.0" r="2.0" fill="none" stroke="#0000ff" stroke-width="1.25"/>
<text x="430.7" y="240.8" class="cv">-0.17</text>
<line x1="420.2" y1="272.6" x2="537.4" y2="287.3" stroke="#ff00ff" stroke-width="2.0"/>
</g>
<rect x="420.1" y="225.6" width="117.60000000000002" height="94.6" fill="none" stroke="#222222" stroke-width="1.9"/>
<line x1="437" y1="225.6" x2="437" y2="227.79999999999998" stroke="#222222" stroke-width="1.1"/>
<line x1="437" y1="320.2" x2="437" y2="318.0" stroke="#222222" stroke-width="1.1"/>
<line x1="466" y1="225.6" x2="466" y2="227.79999999999998" stroke="#222222" stroke-width="1.1"/>
<line x1="466" y1="320.2" x2="466" y2="318.0" stroke="#222222" stroke-width="1.1"/>
<line x1="495.6" y1="225.6" x2="495.6" y2="227.79999999999998" stroke="#222222" stroke-width="1.1"/>
<line x1="495.6" y1="320.2" x2="495.6" y2="318.0" stroke="#222222" stroke-width="1.1"/>
<line x1="525" y1="225.6" x2="525" y2="227.79999999999998" stroke="#222222" stroke-width="1.1"/>
<line x1="525" y1="320.2" x2="525" y2="318.0" stroke="#222222" stroke-width="1.1"/>
<line x1="420.1" y1="293.5" x2="422.3" y2="293.5" stroke="#222222" stroke-width="1.1"/>
<line x1="537.7" y1="293.5" x2="535.5" y2="293.5" stroke="#222222" stroke-width="1.1"/>
<line x1="420.1" y1="268.6" x2="422.3" y2="268.6" stroke="#222222" stroke-width="1.1"/>
<line x1="537.7" y1="268.6" x2="535.5" y2="268.6" stroke="#222222" stroke-width="1.1"/>
<line x1="420.1" y1="243.8" x2="422.3" y2="243.8" stroke="#222222" stroke-width="1.1"/>
<line x1="537.7" y1="243.8" x2="535.5" y2="243.8" stroke="#222222" stroke-width="1.1"/>
<rect x="56.3" y="321.3" width="118.8" height="93.30000000000001" fill="#fff"/>
<g clip-path="url(#c30)">
<circle cx="72.5" cy="332.3" r="1.75" fill="none" stroke="#0000ff" stroke-width="1.05"/><circle cx="73.8" cy="332.3" r="1.75" fill="none" stroke="#0000ff" stroke-width="1.05"/><circle cx="75.0" cy="332.3" r="1.75" fill="none" stroke="#0000ff" stroke-width="1.05"/><circle cx="76.3" cy="332.3" r="1.75" fill="none" stroke="#0000ff" stroke-width="1.05"/><circle cx="77.5" cy="332.3" r="1.75" fill="none" stroke="#0000ff" stroke-width="1.05"/><circle cx="78.8" cy="332.3" r="1.75" fill="none" stroke="#0000ff" stroke-width="1.05"/><circle cx="80.0" cy="332.3" r="1.75" fill="none" stroke="#0000ff" stroke-width="1.05"/><circle cx="81.3" cy="332.3" r="1.75" fill="none" stroke="#0000ff" stroke-width="1.05"/><circle cx="82.6" cy="332.3" r="1.75" fill="none" stroke="#0000ff" stroke-width="1.05"/><circle cx="83.8" cy="332.3" r="1.75" fill="none" stroke="#0000ff" stroke-width="1.05"/><circle cx="85.1" cy="332.3" r="1.75" fill="none" stroke="#0000ff" stroke-width="1.05"/><circle cx="86.3" cy="332.3" r="1.75" fill="none" stroke="#0000ff" stroke-width="1.05"/><circle cx="87.6" cy="332.3" r="1.75" fill="none" stroke="#0000ff" stroke-width="1.05"/><circle cx="88.9" cy="332.3" r="1.75" fill="none" stroke="#0000ff" stroke-width="1.05"/><circle cx="90.1" cy="332.3" r="1.75" fill="none" stroke="#0000ff" stroke-width="1.05"/><circle cx="91.4" cy="332.3" r="1.75" fill="none" stroke="#0000ff" stroke-width="1.05"/><circle cx="92.6" cy="332.3" r="1.75" fill="none" stroke="#0000ff" stroke-width="1.05"/><circle cx="93.9" cy="332.3" r="1.75" fill="none" stroke="#0000ff" stroke-width="1.05"/><circle cx="95.1" cy="332.3" r="1.75" fill="none" stroke="#0000ff" stroke-width="1.05"/><circle cx="96.4" cy="332.3" r="1.75" fill="none" stroke="#0000ff" stroke-width="1.05"/><circle cx="99.0" cy="332.5" r="1.9" fill="none" stroke="#0000ff" stroke-width="1.15"/><circle cx="102.7" cy="332.5" r="1.9" fill="none" stroke="#0000ff" stroke-width="1.15"/><circle cx="106.4" cy="332.5" r="1.9" fill="none" stroke="#0000ff" stroke-width="1.15"/><circle cx="110.0" cy="332.5" r="1.9" fill="none" stroke="#0000ff" stroke-width="1.15"/><circle cx="113.6" cy="332.5" r="1.9" fill="none" stroke="#0000ff" stroke-width="1.15"/><circle cx="117.3" cy="332.5" r="1.9" fill="none" stroke="#0000ff" stroke-width="1.15"/><circle cx="122.7" cy="332.5" r="1.9" fill="none" stroke="#0000ff" stroke-width="1.15"/><circle cx="127.3" cy="332.5" r="1.9" fill="none" stroke="#0000ff" stroke-width="1.15"/><circle cx="142.0" cy="332.5" r="1.9" fill="none" stroke="#0000ff" stroke-width="1.15"/><circle cx="151.9" cy="332.5" r="1.9" fill="none" stroke="#0000ff" stroke-width="1.15"/><polyline points="72.8,399.0 77.0,397.5 82.8,395.7 90.0,394.0 98.3,392.4 103.0,390.5 107.2,389.0 112.0,387.2 116.1,385.7 124.0,384.0 131.6,382.4 140.4,379.6 150.8,378.0 157.1,377.0 162.3,378.0" fill="none" stroke="#0000ff" stroke-width="5.5" stroke-linejoin="round" stroke-linecap="round"/><polyline points="162.3,378.0 158.1,374.9 158.1,364.5 157.6,360.3 151.0,359.5 156.0,355.1 159.7,351.5 157.6,344.2 151.0,342.0 156.0,337.4 159.2,333.8" fill="none" stroke="#0000ff" stroke-width="4.8" stroke-linejoin="round" stroke-linecap="round"/>
<text x="67.8" y="337.2" class="cv">0.17</text>
<line x1="56.3" y1="381.6" x2="175.3" y2="365.2" stroke="#ff00ff" stroke-width="2.0"/>
</g>
<rect x="56.3" y="321.3" width="118.8" height="93.30000000000001" fill="none" stroke="#222222" stroke-width="1.9"/>
<line x1="71.5" y1="321.3" x2="71.5" y2="323.5" stroke="#222222" stroke-width="1.1"/>
<line x1="71.5" y1="414.6" x2="71.5" y2="412.40000000000003" stroke="#222222" stroke-width="1.1"/>
<line x1="116" y1="321.3" x2="116" y2="323.5" stroke="#222222" stroke-width="1.1"/>
<line x1="116" y1="414.6" x2="116" y2="412.40000000000003" stroke="#222222" stroke-width="1.1"/>
<line x1="160.5" y1="321.3" x2="160.5" y2="323.5" stroke="#222222" stroke-width="1.1"/>
<line x1="160.5" y1="414.6" x2="160.5" y2="412.40000000000003" stroke="#222222" stroke-width="1.1"/>
<line x1="56.3" y1="403" x2="58.5" y2="403" stroke="#222222" stroke-width="1.1"/>
<line x1="175.1" y1="403" x2="172.9" y2="403" stroke="#222222" stroke-width="1.1"/>
<line x1="56.3" y1="379.8" x2="58.5" y2="379.8" stroke="#222222" stroke-width="1.1"/>
<line x1="175.1" y1="379.8" x2="172.9" y2="379.8" stroke="#222222" stroke-width="1.1"/>
<line x1="56.3" y1="356" x2="58.5" y2="356" stroke="#222222" stroke-width="1.1"/>
<line x1="175.1" y1="356" x2="172.9" y2="356" stroke="#222222" stroke-width="1.1"/>
<line x1="56.3" y1="332.3" x2="58.5" y2="332.3" stroke="#222222" stroke-width="1.1"/>
<line x1="175.1" y1="332.3" x2="172.9" y2="332.3" stroke="#222222" stroke-width="1.1"/>
<rect x="177.0" y="321.3" width="118.69999999999999" height="93.30000000000001" fill="#fff"/>
<g clip-path="url(#c31)">
<circle cx="203.3" cy="400.0" r="2.0" fill="none" stroke="#0000ff" stroke-width="1.4"/><circle cx="203.2" cy="398.3" r="2.0" fill="none" stroke="#0000ff" stroke-width="1.4"/><circle cx="203.0" cy="396.7" r="2.0" fill="none" stroke="#0000ff" stroke-width="1.4"/><circle cx="202.9" cy="395.0" r="2.0" fill="none" stroke="#0000ff" stroke-width="1.4"/><circle cx="202.7" cy="393.3" r="2.0" fill="none" stroke="#0000ff" stroke-width="1.4"/><circle cx="202.6" cy="391.7" r="2.0" fill="none" stroke="#0000ff" stroke-width="1.4"/><circle cx="202.4" cy="390.0" r="2.0" fill="none" stroke="#0000ff" stroke-width="1.4"/><circle cx="202.9" cy="388.5" r="2.0" fill="none" stroke="#0000ff" stroke-width="1.4"/><circle cx="203.5" cy="387.1" r="2.0" fill="none" stroke="#0000ff" stroke-width="1.4"/><circle cx="204.0" cy="385.6" r="2.0" fill="none" stroke="#0000ff" stroke-width="1.4"/><circle cx="204.6" cy="384.2" r="2.0" fill="none" stroke="#0000ff" stroke-width="1.4"/><circle cx="205.1" cy="382.7" r="2.0" fill="none" stroke="#0000ff" stroke-width="1.4"/><circle cx="206.4" cy="381.6" r="2.0" fill="none" stroke="#0000ff" stroke-width="1.4"/><circle cx="207.8" cy="380.4" r="2.0" fill="none" stroke="#0000ff" stroke-width="1.4"/><circle cx="209.2" cy="379.3" r="2.0" fill="none" stroke="#0000ff" stroke-width="1.4"/><circle cx="210.5" cy="378.2" r="2.0" fill="none" stroke="#0000ff" stroke-width="1.4"/><circle cx="212.0" cy="377.5" r="2.0" fill="none" stroke="#0000ff" stroke-width="1.4"/><circle cx="213.4" cy="376.7" r="2.0" fill="none" stroke="#0000ff" stroke-width="1.4"/><circle cx="214.9" cy="376.0" r="2.0" fill="none" stroke="#0000ff" stroke-width="1.4"/><circle cx="216.3" cy="375.2" r="2.0" fill="none" stroke="#0000ff" stroke-width="1.4"/><circle cx="217.8" cy="374.5" r="2.0" fill="none" stroke="#0000ff" stroke-width="1.4"/><circle cx="219.3" cy="373.8" r="2.0" fill="none" stroke="#0000ff" stroke-width="1.4"/><circle cx="220.8" cy="373.0" r="2.0" fill="none" stroke="#0000ff" stroke-width="1.4"/><circle cx="222.4" cy="372.2" r="2.0" fill="none" stroke="#0000ff" stroke-width="1.4"/><circle cx="223.9" cy="371.5" r="2.0" fill="none" stroke="#0000ff" stroke-width="1.4"/><circle cx="225.4" cy="370.8" r="2.0" fill="none" stroke="#0000ff" stroke-width="1.4"/><circle cx="226.9" cy="370.0" r="2.0" fill="none" stroke="#0000ff" stroke-width="1.4"/><circle cx="228.2" cy="369.2" r="2.0" fill="none" stroke="#0000ff" stroke-width="1.4"/><circle cx="229.5" cy="368.4" r="2.0" fill="none" stroke="#0000ff" stroke-width="1.4"/><circle cx="230.8" cy="367.6" r="2.0" fill="none" stroke="#0000ff" stroke-width="1.4"/><circle cx="232.1" cy="366.9" r="2.0" fill="none" stroke="#0000ff" stroke-width="1.4"/><circle cx="233.4" cy="366.1" r="2.0" fill="none" stroke="#0000ff" stroke-width="1.4"/><circle cx="234.7" cy="365.3" r="2.0" fill="none" stroke="#0000ff" stroke-width="1.4"/><circle cx="236.0" cy="364.5" r="2.0" fill="none" stroke="#0000ff" stroke-width="1.4"/><circle cx="237.4" cy="363.8" r="2.0" fill="none" stroke="#0000ff" stroke-width="1.4"/><circle cx="238.7" cy="363.1" r="2.0" fill="none" stroke="#0000ff" stroke-width="1.4"/><circle cx="240.1" cy="362.4" r="2.0" fill="none" stroke="#0000ff" stroke-width="1.4"/><circle cx="241.4" cy="361.8" r="2.0" fill="none" stroke="#0000ff" stroke-width="1.4"/><circle cx="242.8" cy="361.1" r="2.0" fill="none" stroke="#0000ff" stroke-width="1.4"/><circle cx="244.2" cy="360.4" r="2.0" fill="none" stroke="#0000ff" stroke-width="1.4"/><circle cx="245.5" cy="359.7" r="2.0" fill="none" stroke="#0000ff" stroke-width="1.4"/><circle cx="246.9" cy="359.0" r="2.0" fill="none" stroke="#0000ff" stroke-width="1.4"/><circle cx="248.3" cy="358.1" r="2.0" fill="none" stroke="#0000ff" stroke-width="1.4"/><circle cx="249.6" cy="357.3" r="2.0" fill="none" stroke="#0000ff" stroke-width="1.4"/><circle cx="251.0" cy="356.4" r="2.0" fill="none" stroke="#0000ff" stroke-width="1.4"/><circle cx="252.4" cy="355.6" r="2.0" fill="none" stroke="#0000ff" stroke-width="1.4"/><circle cx="253.7" cy="354.8" r="2.0" fill="none" stroke="#0000ff" stroke-width="1.4"/><circle cx="255.1" cy="353.9" r="2.0" fill="none" stroke="#0000ff" stroke-width="1.4"/><circle cx="256.4" cy="353.1" r="2.0" fill="none" stroke="#0000ff" stroke-width="1.4"/><circle cx="257.8" cy="352.2" r="2.0" fill="none" stroke="#0000ff" stroke-width="1.4"/><circle cx="259.2" cy="351.3" r="2.0" fill="none" stroke="#0000ff" stroke-width="1.4"/><circle cx="260.5" cy="350.5" r="2.0" fill="none" stroke="#0000ff" stroke-width="1.4"/><circle cx="261.9" cy="349.6" r="2.0" fill="none" stroke="#0000ff" stroke-width="1.4"/><circle cx="263.2" cy="348.8" r="2.0" fill="none" stroke="#0000ff" stroke-width="1.4"/><circle cx="264.6" cy="347.9" r="2.0" fill="none" stroke="#0000ff" stroke-width="1.4"/><circle cx="266.0" cy="347.0" r="2.0" fill="none" stroke="#0000ff" stroke-width="1.4"/><circle cx="267.3" cy="346.2" r="2.0" fill="none" stroke="#0000ff" stroke-width="1.4"/><circle cx="268.7" cy="345.3" r="2.0" fill="none" stroke="#0000ff" stroke-width="1.4"/><circle cx="270.1" cy="344.4" r="2.0" fill="none" stroke="#0000ff" stroke-width="1.4"/><circle cx="271.4" cy="343.6" r="2.0" fill="none" stroke="#0000ff" stroke-width="1.4"/><circle cx="272.8" cy="342.8" r="2.0" fill="none" stroke="#0000ff" stroke-width="1.4"/><circle cx="274.1" cy="341.9" r="2.0" fill="none" stroke="#0000ff" stroke-width="1.4"/><circle cx="275.5" cy="341.1" r="2.0" fill="none" stroke="#0000ff" stroke-width="1.4"/><circle cx="276.9" cy="340.2" r="2.0" fill="none" stroke="#0000ff" stroke-width="1.4"/><circle cx="278.2" cy="339.4" r="2.0" fill="none" stroke="#0000ff" stroke-width="1.4"/><circle cx="279.6" cy="338.5" r="2.0" fill="none" stroke="#0000ff" stroke-width="1.4"/><circle cx="281.0" cy="337.2" r="2.0" fill="none" stroke="#0000ff" stroke-width="1.4"/><circle cx="282.3" cy="336.0" r="2.0" fill="none" stroke="#0000ff" stroke-width="1.4"/><circle cx="283.6" cy="334.8" r="2.0" fill="none" stroke="#0000ff" stroke-width="1.4"/><circle cx="285.0" cy="333.5" r="2.0" fill="none" stroke="#0000ff" stroke-width="1.4"/><circle cx="286.2" cy="332.3" r="2.0" fill="none" stroke="#0000ff" stroke-width="1.4"/><circle cx="287.5" cy="331.2" r="2.0" fill="none" stroke="#0000ff" stroke-width="1.4"/><circle cx="288.7" cy="330.0" r="2.0" fill="none" stroke="#0000ff" stroke-width="1.4"/><path d="M281.6,330 L284,327 L288,326.4 L292,328 L292,332 L288,334.4 L283,333 Z" fill="#0000ff"/>
<text x="189.0" y="337.2" class="cv">0.99</text>
<line x1="176.8" y1="412.7" x2="295.6" y2="322.0" stroke="#ff00ff" stroke-width="2.0"/>
</g>
<rect x="177.0" y="321.3" width="118.69999999999999" height="93.30000000000001" fill="none" stroke="#222222" stroke-width="1.9"/>
<line x1="201.3" y1="321.3" x2="201.3" y2="323.5" stroke="#222222" stroke-width="1.1"/>
<line x1="201.3" y1="414.6" x2="201.3" y2="412.40000000000003" stroke="#222222" stroke-width="1.1"/>
<line x1="233.3" y1="321.3" x2="233.3" y2="323.5" stroke="#222222" stroke-width="1.1"/>
<line x1="233.3" y1="414.6" x2="233.3" y2="412.40000000000003" stroke="#222222" stroke-width="1.1"/>
<line x1="265" y1="321.3" x2="265" y2="323.5" stroke="#222222" stroke-width="1.1"/>
<line x1="265" y1="414.6" x2="265" y2="412.40000000000003" stroke="#222222" stroke-width="1.1"/>
<line x1="177.0" y1="403" x2="179.2" y2="403" stroke="#222222" stroke-width="1.1"/>
<line x1="295.7" y1="403" x2="293.5" y2="403" stroke="#222222" stroke-width="1.1"/>
<line x1="177.0" y1="379.8" x2="179.2" y2="379.8" stroke="#222222" stroke-width="1.1"/>
<line x1="295.7" y1="379.8" x2="293.5" y2="379.8" stroke="#222222" stroke-width="1.1"/>
<line x1="177.0" y1="356" x2="179.2" y2="356" stroke="#222222" stroke-width="1.1"/>
<line x1="295.7" y1="356" x2="293.5" y2="356" stroke="#222222" stroke-width="1.1"/>
<line x1="177.0" y1="332.3" x2="179.2" y2="332.3" stroke="#222222" stroke-width="1.1"/>
<line x1="295.7" y1="332.3" x2="293.5" y2="332.3" stroke="#222222" stroke-width="1.1"/>
<rect x="298.0" y="321.3" width="117.69999999999999" height="93.30000000000001" fill="#fff"/>
<g clip-path="url(#c32)">
<circle cx="301.5" cy="329.2" r="1.75" fill="none" stroke="#0000ff" stroke-width="1.05"/><circle cx="301.5" cy="330.7" r="1.75" fill="none" stroke="#0000ff" stroke-width="1.05"/><circle cx="301.5" cy="332.1" r="1.75" fill="none" stroke="#0000ff" stroke-width="1.05"/><circle cx="301.5" cy="333.6" r="1.75" fill="none" stroke="#0000ff" stroke-width="1.05"/><circle cx="357.7" cy="333.3" r="1.9" fill="none" stroke="#0000ff" stroke-width="1.15"/><circle cx="302.2" cy="399.2" r="1.9" fill="none" stroke="#0000ff" stroke-width="1.15"/><circle cx="319.3" cy="398.6" r="1.75" fill="none" stroke="#0000ff" stroke-width="1.05"/><circle cx="322.2" cy="398.6" r="1.75" fill="none" stroke="#0000ff" stroke-width="1.05"/><circle cx="325.1" cy="398.6" r="1.75" fill="none" stroke="#0000ff" stroke-width="1.05"/><circle cx="328.0" cy="398.6" r="1.75" fill="none" stroke="#0000ff" stroke-width="1.05"/><circle cx="330.9" cy="398.6" r="1.75" fill="none" stroke="#0000ff" stroke-width="1.05"/><circle cx="333.8" cy="398.6" r="1.75" fill="none" stroke="#0000ff" stroke-width="1.05"/><circle cx="336.7" cy="398.6" r="1.75" fill="none" stroke="#0000ff" stroke-width="1.05"/><circle cx="339.6" cy="398.6" r="1.75" fill="none" stroke="#0000ff" stroke-width="1.05"/><circle cx="342.6" cy="398.6" r="1.75" fill="none" stroke="#0000ff" stroke-width="1.05"/><circle cx="345.5" cy="398.6" r="1.75" fill="none" stroke="#0000ff" stroke-width="1.05"/><circle cx="348.4" cy="398.6" r="1.75" fill="none" stroke="#0000ff" stroke-width="1.05"/><circle cx="351.3" cy="398.6" r="1.75" fill="none" stroke="#0000ff" stroke-width="1.05"/><circle cx="354.2" cy="398.6" r="1.75" fill="none" stroke="#0000ff" stroke-width="1.05"/><circle cx="357.1" cy="398.6" r="1.75" fill="none" stroke="#0000ff" stroke-width="1.05"/><circle cx="360.0" cy="398.6" r="1.75" fill="none" stroke="#0000ff" stroke-width="1.05"/><circle cx="320.0" cy="398.6" r="1.75" fill="none" stroke="#0000ff" stroke-width="1.05"/><circle cx="321.4" cy="398.6" r="1.75" fill="none" stroke="#0000ff" stroke-width="1.05"/><circle cx="322.9" cy="398.6" r="1.75" fill="none" stroke="#0000ff" stroke-width="1.05"/><circle cx="324.3" cy="398.6" r="1.75" fill="none" stroke="#0000ff" stroke-width="1.05"/><circle cx="325.7" cy="398.6" r="1.75" fill="none" stroke="#0000ff" stroke-width="1.05"/><circle cx="327.1" cy="398.6" r="1.75" fill="none" stroke="#0000ff" stroke-width="1.05"/><circle cx="328.6" cy="398.6" r="1.75" fill="none" stroke="#0000ff" stroke-width="1.05"/><circle cx="330.0" cy="398.6" r="1.75" fill="none" stroke="#0000ff" stroke-width="1.05"/><polyline points="361.4,398.4 362.6,393.5 364.5,389.9 369.4,386.2 373.0,382.5 376.1,377.6 378.0,372.7 379.2,365.4 380.4,360.5 381.6,354.4 384.7,349.5 385.3,343.4 384.7,337.2 385.3,333.6" fill="none" stroke="#0000ff" stroke-width="5.0" stroke-linejoin="round" stroke-linecap="round"/>
<text x="309.0" y="337.2" class="cv">-0.17</text>
<line x1="297.8" y1="368.2" x2="415.7" y2="382.9" stroke="#ff00ff" stroke-width="2.0"/>
</g>
<rect x="298.0" y="321.3" width="117.69999999999999" height="93.30000000000001" fill="none" stroke="#222222" stroke-width="1.9"/>
<line x1="303" y1="321.3" x2="303" y2="323.5" stroke="#222222" stroke-width="1.1"/>
<line x1="303" y1="414.6" x2="303" y2="412.40000000000003" stroke="#222222" stroke-width="1.1"/>
<line x1="334" y1="321.3" x2="334" y2="323.5" stroke="#222222" stroke-width="1.1"/>
<line x1="334" y1="414.6" x2="334" y2="412.40000000000003" stroke="#222222" stroke-width="1.1"/>
<line x1="365" y1="321.3" x2="365" y2="323.5" stroke="#222222" stroke-width="1.1"/>
<line x1="365" y1="414.6" x2="365" y2="412.40000000000003" stroke="#222222" stroke-width="1.1"/>
<line x1="395.5" y1="321.3" x2="395.5" y2="323.5" stroke="#222222" stroke-width="1.1"/>
<line x1="395.5" y1="414.6" x2="395.5" y2="412.40000000000003" stroke="#222222" stroke-width="1.1"/>
<line x1="298.0" y1="403" x2="300.2" y2="403" stroke="#222222" stroke-width="1.1"/>
<line x1="415.7" y1="403" x2="413.5" y2="403" stroke="#222222" stroke-width="1.1"/>
<line x1="298.0" y1="379.8" x2="300.2" y2="379.8" stroke="#222222" stroke-width="1.1"/>
<line x1="415.7" y1="379.8" x2="413.5" y2="379.8" stroke="#222222" stroke-width="1.1"/>
<line x1="298.0" y1="356" x2="300.2" y2="356" stroke="#222222" stroke-width="1.1"/>
<line x1="415.7" y1="356" x2="413.5" y2="356" stroke="#222222" stroke-width="1.1"/>
<line x1="298.0" y1="332.3" x2="300.2" y2="332.3" stroke="#222222" stroke-width="1.1"/>
<line x1="415.7" y1="332.3" x2="413.5" y2="332.3" stroke="#222222" stroke-width="1.1"/>
<rect x="420.1" y="321.3" width="117.60000000000002" height="93.30000000000001" fill="#fff"/>
<g clip-path="url(#c33)">
<rect x="431.90" y="301.25" width="7.45" height="116.35" fill="#6666ff" stroke="#00ffff" stroke-width="2.5"/><rect x="439.35" y="348.05" width="7.45" height="69.55" fill="#6666ff" stroke="#00ffff" stroke-width="2.5"/><rect x="446.80" y="366.25" width="7.45" height="51.35" fill="#6666ff" stroke="#00ffff" stroke-width="2.5"/><rect x="454.25" y="390.55" width="7.45" height="27.05" fill="#6666ff" stroke="#00ffff" stroke-width="2.5"/><rect x="461.70" y="394.55" width="7.45" height="23.05" fill="#6666ff" stroke="#00ffff" stroke-width="2.5"/><rect x="469.15" y="400.65" width="7.45" height="16.95" fill="#6666ff" stroke="#00ffff" stroke-width="2.5"/><rect x="476.60" y="404.05" width="7.45" height="13.55" fill="#6666ff" stroke="#00ffff" stroke-width="2.5"/><rect x="484.05" y="405.75" width="7.45" height="11.85" fill="#6666ff" stroke="#00ffff" stroke-width="2.5"/><rect x="491.50" y="406.85" width="7.45" height="10.75" fill="#6666ff" stroke="#00ffff" stroke-width="2.5"/><rect x="498.95" y="407.95" width="7.45" height="9.65" fill="#6666ff" stroke="#00ffff" stroke-width="2.5"/><rect x="506.40" y="407.95" width="7.45" height="9.65" fill="#6666ff" stroke="#00ffff" stroke-width="2.5"/><rect x="513.85" y="409.05" width="7.45" height="8.55" fill="#6666ff" stroke="#00ffff" stroke-width="2.5"/><rect x="521.30" y="350.25" width="7.45" height="67.35" fill="#6666ff" stroke="#00ffff" stroke-width="2.5"/>

</g>
<rect x="420.1" y="321.3" width="117.60000000000002" height="93.30000000000001" fill="none" stroke="#222222" stroke-width="1.9"/>
<text x="53" y="121.5" class="tk" text-anchor="end">0</text>
<text x="53" y="86.9" class="tk" text-anchor="end">10</text>
<text x="53" y="51.6" class="tk" text-anchor="end">20</text>
<text x="53" y="210.9" class="tk" text-anchor="end">22</text>
<text x="53" y="185.9" class="tk" text-anchor="end">24</text>
<text x="53" y="161.1" class="tk" text-anchor="end">26</text>
<text x="53" y="321.7" class="tk" text-anchor="end">0</text>
<text x="53" y="298.1" class="tk" text-anchor="end">5</text>
<text x="53" y="273.7" class="tk" text-anchor="end">10</text>
<text x="53" y="248.9" class="tk" text-anchor="end">15</text>
<text x="53" y="408.1" class="tk" text-anchor="end">22</text>
<text x="53" y="384.9" class="tk" text-anchor="end">24</text>
<text x="53" y="361.1" class="tk" text-anchor="end">26</text>
<text x="53" y="337.4" class="tk" text-anchor="end">28</text>
<text x="72.3" y="433.7" class="tk" text-anchor="middle">0</text>
<text x="117.3" y="433.7" class="tk" text-anchor="middle">10</text>
<text x="161.3" y="433.7" class="tk" text-anchor="middle">20</text>
<text x="201.8" y="433.7" class="tk" text-anchor="middle">22</text>
<text x="233.8" y="433.7" class="tk" text-anchor="middle">24</text>
<text x="265.5" y="433.7" class="tk" text-anchor="middle">26</text>
<text x="303.7" y="433.7" class="tk" text-anchor="middle">0</text>
<text x="334.7" y="433.7" class="tk" text-anchor="middle">5</text>
<text x="365.5" y="433.7" class="tk" text-anchor="middle">10</text>
<text x="396.1" y="433.7" class="tk" text-anchor="middle">15</text>
<text x="437.5" y="433.7" class="tk" text-anchor="middle">22</text>
<text x="466.7" y="433.7" class="tk" text-anchor="middle">24</text>
<text x="496.1" y="433.7" class="tk" text-anchor="middle">26</text>
<text x="525.7" y="433.7" class="tk" text-anchor="middle">28</text>
<text transform="translate(116,451.6) scale(1,1.03)" class="lb" text-anchor="middle" fill="#404040" stroke="#404040">PT112</text>
<text transform="translate(235.6,454) scale(1,1.03)" class="lb" text-anchor="middle" fill="#000" style="font-size:15.4px">TT105</text>
<text transform="translate(348.4,452) scale(1,1.03)" class="lb" text-anchor="middle" fill="#404040" stroke="#404040">V</text>
<text transform="translate(482,453.5) scale(1,1.03)" class="lb" text-anchor="middle" fill="#000" style="font-size:15.4px">TT121</text>
<text transform="translate(31.8,82) rotate(-90) scale(1,1.03)" class="lb" text-anchor="middle" fill="#404040" stroke="#404040">PT112</text>
<text transform="translate(25.9,182.1) rotate(-90) scale(1,1.03)" class="lb" text-anchor="middle" fill="#000" style="font-size:15.4px">TT105</text>
<text transform="translate(31.3,281.5) rotate(-90) scale(1,1.03)" class="lb" text-anchor="middle" fill="#404040" stroke="#404040">V</text>
<text transform="translate(25.9,379.7) rotate(-90) scale(1,1.03)" class="lb" text-anchor="middle" fill="#000" style="font-size:15.4px">TT121</text>
<rect x="177.3" y="322.0" width="112.3" height="87.8" fill="none" stroke="#ff0000" stroke-width="3" stroke-dasharray="9.6 3.1" stroke-dashoffset="-0.58"/>
</svg>
<svg width="550" height="653" viewBox="0 0 550 653" style="position:absolute;left:0;top:0"><style>.td{font-family:"Liberation Sans",Arial,sans-serif;font-size:15.3px;fill:#4a4a4a;stroke:#4a4a4a;stroke-width:0.1px}.tb{font-family:"Liberation Sans",Arial,sans-serif;font-size:15px;font-weight:bold;fill:#111}.tn{font-family:"Liberation Sans",Arial,sans-serif;font-size:15px;fill:#7a7a7a;stroke:#7a7a7a;stroke-width:0.3px}.cm{font-family:"Liberation Mono",monospace;font-size:13.75px}</style><text x="9" y="478" class="cm" xml:space="preserve" style="white-space:pre"><tspan fill="#3a3a3a" stroke="#3a3a3a" stroke-width="0.5">a =</tspan><tspan fill="#a8a8a8"> 4×4 table</tspan></text><rect x="29" y="487" width="512.5" height="147.79999999999995" fill="#fff"/><rect x="29" y="487" width="512.5" height="35" fill="#f3f3f3"/><rect x="29" y="522" width="35" height="112.79999999999995" fill="#f0f0f0"/><rect x="64" y="522" width="57" height="112.79999999999995" fill="#f7f7f7"/><rect x="256" y="492" width="55" height="25" fill="#f4f4f4"/><rect x="454" y="492" width="56" height="25" fill="#f4f4f4"/><line x1="29" y1="522" x2="541.5" y2="522" stroke="#9c9c9c" stroke-width="1.6"/><line x1="29" y1="550" x2="541.5" y2="550" stroke="#9c9c9c" stroke-width="1.6"/><line x1="29" y1="578" x2="541.5" y2="578" stroke="#9c9c9c" stroke-width="1.6"/><line x1="29" y1="606" x2="541.5" y2="606" stroke="#9c9c9c" stroke-width="1.6"/><line x1="121" y1="487" x2="121" y2="634.8" stroke="#9c9c9c" stroke-width="1.6"/><line x1="227.5" y1="487" x2="227.5" y2="634.8" stroke="#9c9c9c" stroke-width="1.6"/><line x1="331.3" y1="487" x2="331.3" y2="634.8" stroke="#9c9c9c" stroke-width="1.6"/><line x1="436.2" y1="487" x2="436.2" y2="634.8" stroke="#9c9c9c" stroke-width="1.6"/><line x1="64" y1="522" x2="64" y2="634.8" stroke="#9c9c9c" stroke-width="1.6"/><rect x="29" y="487" width="512.5" height="147.79999999999995" fill="none" stroke="#9a9a9a" stroke-width="1.6"/><line x1="29" y1="635.0999999999999" x2="541.5" y2="635.0999999999999" stroke="#808080" stroke-width="1.2"/><text x="170.2" y="509.8" class="tb" text-anchor="middle" fill="#222">PT112</text><text x="283.4" y="511" class="tb" text-anchor="middle">TT105</text><text x="371" y="509.8" class="tb" text-anchor="middle">V</text><text x="481.4" y="511" class="tb" text-anchor="middle">TT121</text><text x="45.0" y="539.2" class="tn" text-anchor="middle">1</text><text x="67.4" y="539.6" class="tb">PT112</text><text x="222.6" y="539.6" class="td" text-anchor="end">1</text><text x="326.4" y="539.6" class="td" text-anchor="end">0.0716</text><text x="432.3" y="539.6" class="td" text-anchor="end">0.7970</text><text x="537.0" y="539.6" class="td" text-anchor="end">0.1720</text><text x="45.0" y="567.2" class="tn" text-anchor="middle">2</text><text x="67.4" y="567.6" class="tb">TT105</text><text x="222.6" y="567.6" class="td" text-anchor="end">0.0716</text><text x="326.4" y="567.6" class="td" text-anchor="end">1</text><text x="432.3" y="567.6" class="td" text-anchor="end">-0.2728</text><text x="537.0" y="567.6" class="td" text-anchor="end">0.9857</text><text x="45.0" y="595.2" class="tn" text-anchor="middle">3</text><text x="67.4" y="595.6" class="tb">V</text><text x="222.6" y="595.6" class="td" text-anchor="end">0.7970</text><text x="326.4" y="595.6" class="td" text-anchor="end">-0.2728</text><text x="432.3" y="595.6" class="td" text-anchor="end">1</text><text x="537.0" y="595.6" class="td" text-anchor="end">-0.1670</text><text x="45.0" y="623.2" class="tn" text-anchor="middle">4</text><text x="67.4" y="623.6" class="tb">TT121</text><text x="222.6" y="623.6" class="td" text-anchor="end">0.1720</text><text x="326.4" y="623.6" class="td" text-anchor="end">0.9857</text><text x="432.3" y="623.6" class="td" text-anchor="end">-0.1670</text><text x="537.0" y="623.6" class="td" text-anchor="end">1</text><rect x="269.2" y="606.8" width="61.6" height="33.6" fill="none" stroke="#ff0000" stroke-width="2.6" stroke-dasharray="6 2.6"/></svg>
</body></html>
